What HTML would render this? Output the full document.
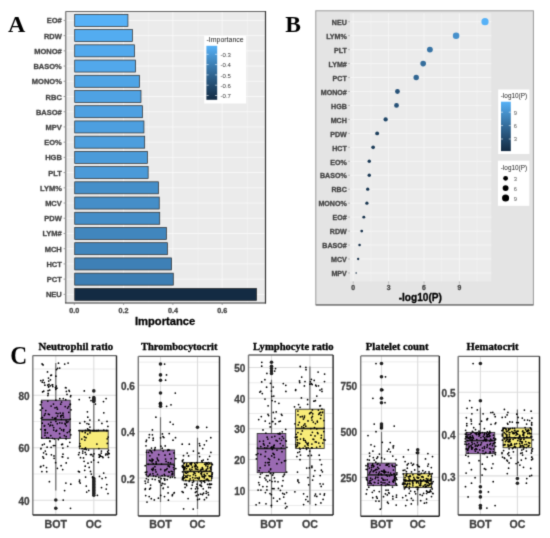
<!DOCTYPE html>
<html><head><meta charset="utf-8"><title>Figure</title>
<style>html,body{margin:0;padding:0;background:#fff;}svg{display:block;}text.g{stroke:#444;stroke-width:0.3px;stroke-linejoin:round;}text.k{stroke:#000;stroke-width:0.3px;stroke-linejoin:round;}</style></head>
<body><svg width="550" height="538" viewBox="0 0 550 538">
<defs><filter id="soft" x="0" y="0" width="550" height="538" filterUnits="userSpaceOnUse" color-interpolation-filters="sRGB"><feConvolveMatrix order="3" kernelMatrix="2 10 2 10 52 10 2 10 2" divisor="100" edgeMode="duplicate"/></filter></defs>
<g filter="url(#soft)">
<rect width="550" height="538" fill="#fff"/>
<rect x="65.5" y="11.5" width="200.0" height="291.5" fill="#EBEBEB"/>
<line x1="99.45" y1="11.5" x2="99.45" y2="303.0" stroke="#F6F6F6" stroke-width="0.5"/>
<line x1="148.75" y1="11.5" x2="148.75" y2="303.0" stroke="#F6F6F6" stroke-width="0.5"/>
<line x1="198.05" y1="11.5" x2="198.05" y2="303.0" stroke="#F6F6F6" stroke-width="0.5"/>
<line x1="247.35" y1="11.5" x2="247.35" y2="303.0" stroke="#F6F6F6" stroke-width="0.5"/>
<line x1="74.3" y1="11.5" x2="74.3" y2="303.0" stroke="#FAFAFA" stroke-width="0.8"/>
<line x1="123.6" y1="11.5" x2="123.6" y2="303.0" stroke="#FAFAFA" stroke-width="0.8"/>
<line x1="172.9" y1="11.5" x2="172.9" y2="303.0" stroke="#FAFAFA" stroke-width="0.8"/>
<line x1="222.2" y1="11.5" x2="222.2" y2="303.0" stroke="#FAFAFA" stroke-width="0.8"/>
<line x1="65.5" y1="20.4" x2="265.5" y2="20.4" stroke="#FAFAFA" stroke-width="0.8"/>
<line x1="65.5" y1="35.62" x2="265.5" y2="35.62" stroke="#FAFAFA" stroke-width="0.8"/>
<line x1="65.5" y1="50.84" x2="265.5" y2="50.84" stroke="#FAFAFA" stroke-width="0.8"/>
<line x1="65.5" y1="66.06" x2="265.5" y2="66.06" stroke="#FAFAFA" stroke-width="0.8"/>
<line x1="65.5" y1="81.28" x2="265.5" y2="81.28" stroke="#FAFAFA" stroke-width="0.8"/>
<line x1="65.5" y1="96.5" x2="265.5" y2="96.5" stroke="#FAFAFA" stroke-width="0.8"/>
<line x1="65.5" y1="111.72" x2="265.5" y2="111.72" stroke="#FAFAFA" stroke-width="0.8"/>
<line x1="65.5" y1="126.94" x2="265.5" y2="126.94" stroke="#FAFAFA" stroke-width="0.8"/>
<line x1="65.5" y1="142.16" x2="265.5" y2="142.16" stroke="#FAFAFA" stroke-width="0.8"/>
<line x1="65.5" y1="157.38" x2="265.5" y2="157.38" stroke="#FAFAFA" stroke-width="0.8"/>
<line x1="65.5" y1="172.6" x2="265.5" y2="172.6" stroke="#FAFAFA" stroke-width="0.8"/>
<line x1="65.5" y1="187.82" x2="265.5" y2="187.82" stroke="#FAFAFA" stroke-width="0.8"/>
<line x1="65.5" y1="203.04" x2="265.5" y2="203.04" stroke="#FAFAFA" stroke-width="0.8"/>
<line x1="65.5" y1="218.26" x2="265.5" y2="218.26" stroke="#FAFAFA" stroke-width="0.8"/>
<line x1="65.5" y1="233.48" x2="265.5" y2="233.48" stroke="#FAFAFA" stroke-width="0.8"/>
<line x1="65.5" y1="248.7" x2="265.5" y2="248.7" stroke="#FAFAFA" stroke-width="0.8"/>
<line x1="65.5" y1="263.92" x2="265.5" y2="263.92" stroke="#FAFAFA" stroke-width="0.8"/>
<line x1="65.5" y1="279.14" x2="265.5" y2="279.14" stroke="#FAFAFA" stroke-width="0.8"/>
<line x1="65.5" y1="294.36" x2="265.5" y2="294.36" stroke="#FAFAFA" stroke-width="0.8"/>
<rect x="74.7" y="14.4" width="53.24" height="12.0" fill="#56b1f7" stroke="#2a2a2a" stroke-width="0.7"/>
<text x="61.8" y="23.4" text-anchor="end" font-family='"Liberation Sans", sans-serif' font-weight="bold" font-size="7.5" fill="#444" class="g">EO#</text>
<line x1="63.6" y1="20.4" x2="65.5" y2="20.4" stroke="#777" stroke-width="0.7"/>
<rect x="74.7" y="29.62" width="57.67" height="12.0" fill="#53acf0" stroke="#2a2a2a" stroke-width="0.7"/>
<text x="61.8" y="38.62" text-anchor="end" font-family='"Liberation Sans", sans-serif' font-weight="bold" font-size="7.5" fill="#444" class="g">RDW</text>
<line x1="63.6" y1="35.62" x2="65.5" y2="35.62" stroke="#777" stroke-width="0.7"/>
<rect x="74.7" y="44.84" width="59.89" height="12.0" fill="#52a9ed" stroke="#2a2a2a" stroke-width="0.7"/>
<text x="61.8" y="53.84" text-anchor="end" font-family='"Liberation Sans", sans-serif' font-weight="bold" font-size="7.5" fill="#444" class="g">MONO#</text>
<line x1="63.6" y1="50.84" x2="65.5" y2="50.84" stroke="#777" stroke-width="0.7"/>
<rect x="74.7" y="60.06" width="60.88" height="12.0" fill="#52a8eb" stroke="#2a2a2a" stroke-width="0.7"/>
<text x="61.8" y="69.06" text-anchor="end" font-family='"Liberation Sans", sans-serif' font-weight="bold" font-size="7.5" fill="#444" class="g">BASO%</text>
<line x1="63.6" y1="66.06" x2="65.5" y2="66.06" stroke="#777" stroke-width="0.7"/>
<rect x="74.7" y="75.28" width="64.82" height="12.0" fill="#4fa4e5" stroke="#2a2a2a" stroke-width="0.7"/>
<text x="61.8" y="84.28" text-anchor="end" font-family='"Liberation Sans", sans-serif' font-weight="bold" font-size="7.5" fill="#444" class="g">MONO%</text>
<line x1="63.6" y1="81.28" x2="65.5" y2="81.28" stroke="#777" stroke-width="0.7"/>
<rect x="74.7" y="90.5" width="66.3" height="12.0" fill="#4fa2e3" stroke="#2a2a2a" stroke-width="0.7"/>
<text x="61.8" y="99.5" text-anchor="end" font-family='"Liberation Sans", sans-serif' font-weight="bold" font-size="7.5" fill="#444" class="g">RBC</text>
<line x1="63.6" y1="96.5" x2="65.5" y2="96.5" stroke="#777" stroke-width="0.7"/>
<rect x="74.7" y="105.72" width="67.78" height="12.0" fill="#4ea0e1" stroke="#2a2a2a" stroke-width="0.7"/>
<text x="61.8" y="114.72" text-anchor="end" font-family='"Liberation Sans", sans-serif' font-weight="bold" font-size="7.5" fill="#444" class="g">BASO#</text>
<line x1="63.6" y1="111.72" x2="65.5" y2="111.72" stroke="#777" stroke-width="0.7"/>
<rect x="74.7" y="120.94" width="69.26" height="12.0" fill="#4d9fdf" stroke="#2a2a2a" stroke-width="0.7"/>
<text x="61.8" y="129.94" text-anchor="end" font-family='"Liberation Sans", sans-serif' font-weight="bold" font-size="7.5" fill="#444" class="g">MPV</text>
<line x1="63.6" y1="126.94" x2="65.5" y2="126.94" stroke="#777" stroke-width="0.7"/>
<rect x="74.7" y="136.16" width="70" height="12.0" fill="#4d9edd" stroke="#2a2a2a" stroke-width="0.7"/>
<text x="61.8" y="145.16" text-anchor="end" font-family='"Liberation Sans", sans-serif' font-weight="bold" font-size="7.5" fill="#444" class="g">EO%</text>
<line x1="63.6" y1="142.16" x2="65.5" y2="142.16" stroke="#777" stroke-width="0.7"/>
<rect x="74.7" y="151.38" width="72.71" height="12.0" fill="#4b9bd9" stroke="#2a2a2a" stroke-width="0.7"/>
<text x="61.8" y="160.38" text-anchor="end" font-family='"Liberation Sans", sans-serif' font-weight="bold" font-size="7.5" fill="#444" class="g">HGB</text>
<line x1="63.6" y1="157.38" x2="65.5" y2="157.38" stroke="#777" stroke-width="0.7"/>
<rect x="74.7" y="166.6" width="73.45" height="12.0" fill="#4b9ad8" stroke="#2a2a2a" stroke-width="0.7"/>
<text x="61.8" y="175.6" text-anchor="end" font-family='"Liberation Sans", sans-serif' font-weight="bold" font-size="7.5" fill="#444" class="g">PLT</text>
<line x1="63.6" y1="172.6" x2="65.5" y2="172.6" stroke="#777" stroke-width="0.7"/>
<rect x="74.7" y="181.82" width="83.8" height="12.0" fill="#458fc9" stroke="#2a2a2a" stroke-width="0.7"/>
<text x="61.8" y="190.82" text-anchor="end" font-family='"Liberation Sans", sans-serif' font-weight="bold" font-size="7.5" fill="#444" class="g">LYM%</text>
<line x1="63.6" y1="187.82" x2="65.5" y2="187.82" stroke="#777" stroke-width="0.7"/>
<rect x="74.7" y="197.04" width="84.54" height="12.0" fill="#458ec8" stroke="#2a2a2a" stroke-width="0.7"/>
<text x="61.8" y="206.04" text-anchor="end" font-family='"Liberation Sans", sans-serif' font-weight="bold" font-size="7.5" fill="#444" class="g">MCV</text>
<line x1="63.6" y1="203.04" x2="65.5" y2="203.04" stroke="#777" stroke-width="0.7"/>
<rect x="74.7" y="212.26" width="85.04" height="12.0" fill="#448dc7" stroke="#2a2a2a" stroke-width="0.7"/>
<text x="61.8" y="221.26" text-anchor="end" font-family='"Liberation Sans", sans-serif' font-weight="bold" font-size="7.5" fill="#444" class="g">PDW</text>
<line x1="63.6" y1="218.26" x2="65.5" y2="218.26" stroke="#777" stroke-width="0.7"/>
<rect x="74.7" y="227.48" width="91.69" height="12.0" fill="#4186bd" stroke="#2a2a2a" stroke-width="0.7"/>
<text x="61.8" y="236.48" text-anchor="end" font-family='"Liberation Sans", sans-serif' font-weight="bold" font-size="7.5" fill="#444" class="g">LYM#</text>
<line x1="63.6" y1="233.48" x2="65.5" y2="233.48" stroke="#777" stroke-width="0.7"/>
<rect x="74.7" y="242.7" width="92.68" height="12.0" fill="#4085bc" stroke="#2a2a2a" stroke-width="0.7"/>
<text x="61.8" y="251.7" text-anchor="end" font-family='"Liberation Sans", sans-serif' font-weight="bold" font-size="7.5" fill="#444" class="g">MCH</text>
<line x1="63.6" y1="248.7" x2="65.5" y2="248.7" stroke="#777" stroke-width="0.7"/>
<rect x="74.7" y="257.92" width="96.87" height="12.0" fill="#3e80b6" stroke="#2a2a2a" stroke-width="0.7"/>
<text x="61.8" y="266.92" text-anchor="end" font-family='"Liberation Sans", sans-serif' font-weight="bold" font-size="7.5" fill="#444" class="g">HCT</text>
<line x1="63.6" y1="263.92" x2="65.5" y2="263.92" stroke="#777" stroke-width="0.7"/>
<rect x="74.7" y="273.14" width="98.59" height="12.0" fill="#3d7eb3" stroke="#2a2a2a" stroke-width="0.7"/>
<text x="61.8" y="282.14" text-anchor="end" font-family='"Liberation Sans", sans-serif' font-weight="bold" font-size="7.5" fill="#444" class="g">PCT</text>
<line x1="63.6" y1="279.14" x2="65.5" y2="279.14" stroke="#777" stroke-width="0.7"/>
<rect x="74.7" y="288.36" width="181.91" height="12.0" fill="#132b43" stroke="#2a2a2a" stroke-width="0.7"/>
<text x="61.8" y="297.36" text-anchor="end" font-family='"Liberation Sans", sans-serif' font-weight="bold" font-size="7.5" fill="#444" class="g">NEU</text>
<line x1="63.6" y1="294.36" x2="65.5" y2="294.36" stroke="#777" stroke-width="0.7"/>
<line x1="65.5" y1="11.5" x2="265.5" y2="11.5" stroke="#666" stroke-width="1.1"/>
<line x1="65.7" y1="11.5" x2="65.7" y2="303.0" stroke="#888" stroke-width="1.5"/>
<line x1="265.5" y1="11.0" x2="265.5" y2="303.5" stroke="#333" stroke-width="1.2"/>
<line x1="65.0" y1="303.0" x2="266.0" y2="303.0" stroke="#333" stroke-width="1.2"/>
<line x1="74.3" y1="303.0" x2="74.3" y2="305.0" stroke="#777" stroke-width="0.7"/>
<text x="74.3" y="313.3" text-anchor="middle" font-family='"Liberation Sans", sans-serif' font-weight="bold" font-size="7.2" fill="#444" class="g">0.0</text>
<line x1="123.6" y1="303.0" x2="123.6" y2="305.0" stroke="#777" stroke-width="0.7"/>
<text x="123.6" y="313.3" text-anchor="middle" font-family='"Liberation Sans", sans-serif' font-weight="bold" font-size="7.2" fill="#444" class="g">0.2</text>
<line x1="172.9" y1="303.0" x2="172.9" y2="305.0" stroke="#777" stroke-width="0.7"/>
<text x="172.9" y="313.3" text-anchor="middle" font-family='"Liberation Sans", sans-serif' font-weight="bold" font-size="7.2" fill="#444" class="g">0.4</text>
<line x1="222.2" y1="303.0" x2="222.2" y2="305.0" stroke="#777" stroke-width="0.7"/>
<text x="222.2" y="313.3" text-anchor="middle" font-family='"Liberation Sans", sans-serif' font-weight="bold" font-size="7.2" fill="#444" class="g">0.6</text>
<text x="165.1" y="325" text-anchor="middle" font-family='"Liberation Sans", sans-serif' font-weight="bold" font-size="11.2" fill="#000" class="k">Importance</text>
<defs><linearGradient id="gA" x1="0" y1="0" x2="0" y2="1"><stop offset="0.00" stop-color="#56b1f7"/><stop offset="0.05" stop-color="#52aaed"/><stop offset="0.10" stop-color="#4fa2e3"/><stop offset="0.15" stop-color="#4b9bda"/><stop offset="0.20" stop-color="#4894d0"/><stop offset="0.25" stop-color="#448dc6"/><stop offset="0.30" stop-color="#4186bd"/><stop offset="0.35" stop-color="#3d7fb4"/><stop offset="0.40" stop-color="#3a78aa"/><stop offset="0.45" stop-color="#3671a1"/><stop offset="0.50" stop-color="#336a98"/><stop offset="0.55" stop-color="#2f638f"/><stop offset="0.60" stop-color="#2c5d86"/><stop offset="0.65" stop-color="#29567d"/><stop offset="0.70" stop-color="#265075"/><stop offset="0.75" stop-color="#22496c"/><stop offset="0.80" stop-color="#1f4364"/><stop offset="0.85" stop-color="#1c3d5b"/><stop offset="0.90" stop-color="#193753"/><stop offset="0.95" stop-color="#16314b"/><stop offset="1.00" stop-color="#132b43"/></linearGradient><linearGradient id="gB" x1="0" y1="0" x2="0" y2="1"><stop offset="0.00" stop-color="#56b1f7"/><stop offset="0.05" stop-color="#52aaed"/><stop offset="0.10" stop-color="#4fa2e3"/><stop offset="0.15" stop-color="#4b9bda"/><stop offset="0.20" stop-color="#4894d0"/><stop offset="0.25" stop-color="#448dc6"/><stop offset="0.30" stop-color="#4186bd"/><stop offset="0.35" stop-color="#3d7fb4"/><stop offset="0.40" stop-color="#3a78aa"/><stop offset="0.45" stop-color="#3671a1"/><stop offset="0.50" stop-color="#336a98"/><stop offset="0.55" stop-color="#2f638f"/><stop offset="0.60" stop-color="#2c5d86"/><stop offset="0.65" stop-color="#29567d"/><stop offset="0.70" stop-color="#265075"/><stop offset="0.75" stop-color="#22496c"/><stop offset="0.80" stop-color="#1f4364"/><stop offset="0.85" stop-color="#1c3d5b"/><stop offset="0.90" stop-color="#193753"/><stop offset="0.95" stop-color="#16314b"/><stop offset="1.00" stop-color="#132b43"/></linearGradient></defs>
<rect x="204.2" y="35.6" width="42" height="67.9" fill="#fff"/>
<text x="206.4" y="41.8" font-family='"Liberation Sans", sans-serif' font-size="7.0" fill="#1a1a1a">-Importance</text>
<rect x="206.4" y="45.8" width="10.8" height="54" fill="url(#gA)"/>
<line x1="206.4" y1="54.3" x2="208.6" y2="54.3" stroke="#fff" stroke-width="0.6"/>
<line x1="215" y1="54.3" x2="217.2" y2="54.3" stroke="#fff" stroke-width="0.6"/>
<text x="220.6" y="56.9" font-family='"Liberation Sans", sans-serif' font-size="6.0" fill="#333">-0.3</text>
<line x1="206.4" y1="64.6" x2="208.6" y2="64.6" stroke="#fff" stroke-width="0.6"/>
<line x1="215" y1="64.6" x2="217.2" y2="64.6" stroke="#fff" stroke-width="0.6"/>
<text x="220.6" y="67.2" font-family='"Liberation Sans", sans-serif' font-size="6.0" fill="#333">-0.4</text>
<line x1="206.4" y1="74.9" x2="208.6" y2="74.9" stroke="#fff" stroke-width="0.6"/>
<line x1="215" y1="74.9" x2="217.2" y2="74.9" stroke="#fff" stroke-width="0.6"/>
<text x="220.6" y="77.5" font-family='"Liberation Sans", sans-serif' font-size="6.0" fill="#333">-0.5</text>
<line x1="206.4" y1="85.2" x2="208.6" y2="85.2" stroke="#fff" stroke-width="0.6"/>
<line x1="215" y1="85.2" x2="217.2" y2="85.2" stroke="#fff" stroke-width="0.6"/>
<text x="220.6" y="87.8" font-family='"Liberation Sans", sans-serif' font-size="6.0" fill="#333">-0.6</text>
<line x1="206.4" y1="95.5" x2="208.6" y2="95.5" stroke="#fff" stroke-width="0.6"/>
<line x1="215" y1="95.5" x2="217.2" y2="95.5" stroke="#fff" stroke-width="0.6"/>
<text x="220.6" y="98.1" font-family='"Liberation Sans", sans-serif' font-size="6.0" fill="#333">-0.7</text>
<text x="8" y="32.4" font-family='"Liberation Serif", serif' font-weight="bold" font-size="24" fill="#000">A</text>
<rect x="315.8" y="10.8" width="217.6" height="294" fill="#E4E4E4" stroke="#9a9a9a" stroke-width="1"/>
<line x1="315.8" y1="305" x2="533.4" y2="305" stroke="#555" stroke-width="1.2"/>
<rect x="350.0" y="13.3" width="141.3" height="268.1" fill="#EBEBEB"/>
<line x1="370.9" y1="13.3" x2="370.9" y2="281.4" stroke="#F4F4F4" stroke-width="0.5"/>
<line x1="406.3" y1="13.3" x2="406.3" y2="281.4" stroke="#F4F4F4" stroke-width="0.5"/>
<line x1="441.7" y1="13.3" x2="441.7" y2="281.4" stroke="#F4F4F4" stroke-width="0.5"/>
<line x1="477.1" y1="13.3" x2="477.1" y2="281.4" stroke="#F4F4F4" stroke-width="0.5"/>
<line x1="353.2" y1="13.3" x2="353.2" y2="281.4" stroke="#F6F6F6" stroke-width="0.9"/>
<line x1="388.6" y1="13.3" x2="388.6" y2="281.4" stroke="#F6F6F6" stroke-width="0.9"/>
<line x1="424" y1="13.3" x2="424" y2="281.4" stroke="#F6F6F6" stroke-width="0.9"/>
<line x1="459.4" y1="13.3" x2="459.4" y2="281.4" stroke="#F6F6F6" stroke-width="0.9"/>
<line x1="350.0" y1="21.7" x2="491.3" y2="21.7" stroke="#F6F6F6" stroke-width="0.9"/>
<line x1="350.0" y1="35.66" x2="491.3" y2="35.66" stroke="#F6F6F6" stroke-width="0.9"/>
<line x1="350.0" y1="49.62" x2="491.3" y2="49.62" stroke="#F6F6F6" stroke-width="0.9"/>
<line x1="350.0" y1="63.58" x2="491.3" y2="63.58" stroke="#F6F6F6" stroke-width="0.9"/>
<line x1="350.0" y1="77.54" x2="491.3" y2="77.54" stroke="#F6F6F6" stroke-width="0.9"/>
<line x1="350.0" y1="91.5" x2="491.3" y2="91.5" stroke="#F6F6F6" stroke-width="0.9"/>
<line x1="350.0" y1="105.46" x2="491.3" y2="105.46" stroke="#F6F6F6" stroke-width="0.9"/>
<line x1="350.0" y1="119.42" x2="491.3" y2="119.42" stroke="#F6F6F6" stroke-width="0.9"/>
<line x1="350.0" y1="133.38" x2="491.3" y2="133.38" stroke="#F6F6F6" stroke-width="0.9"/>
<line x1="350.0" y1="147.34" x2="491.3" y2="147.34" stroke="#F6F6F6" stroke-width="0.9"/>
<line x1="350.0" y1="161.3" x2="491.3" y2="161.3" stroke="#F6F6F6" stroke-width="0.9"/>
<line x1="350.0" y1="175.26" x2="491.3" y2="175.26" stroke="#F6F6F6" stroke-width="0.9"/>
<line x1="350.0" y1="189.22" x2="491.3" y2="189.22" stroke="#F6F6F6" stroke-width="0.9"/>
<line x1="350.0" y1="203.18" x2="491.3" y2="203.18" stroke="#F6F6F6" stroke-width="0.9"/>
<line x1="350.0" y1="217.14" x2="491.3" y2="217.14" stroke="#F6F6F6" stroke-width="0.9"/>
<line x1="350.0" y1="231.1" x2="491.3" y2="231.1" stroke="#F6F6F6" stroke-width="0.9"/>
<line x1="350.0" y1="245.06" x2="491.3" y2="245.06" stroke="#F6F6F6" stroke-width="0.9"/>
<line x1="350.0" y1="259.02" x2="491.3" y2="259.02" stroke="#F6F6F6" stroke-width="0.9"/>
<line x1="350.0" y1="272.98" x2="491.3" y2="272.98" stroke="#F6F6F6" stroke-width="0.9"/>
<circle cx="485.01" cy="21.7" r="3.6" fill="#56b1f7"/>
<text x="346.8" y="24.9" text-anchor="end" font-family='"Liberation Sans", sans-serif' font-weight="bold" font-size="7.1" fill="#444" class="g">NEU</text>
<line x1="348" y1="21.7" x2="350.0" y2="21.7" stroke="#888" stroke-width="0.5"/>
<circle cx="456.1" cy="35.66" r="3.27" fill="#4690cb"/>
<text x="346.8" y="38.86" text-anchor="end" font-family='"Liberation Sans", sans-serif' font-weight="bold" font-size="7.1" fill="#444" class="g">LYM%</text>
<line x1="348" y1="35.66" x2="350.0" y2="35.66" stroke="#888" stroke-width="0.5"/>
<circle cx="429.9" cy="49.62" r="2.92" fill="#3874a5"/>
<text x="346.8" y="52.82" text-anchor="end" font-family='"Liberation Sans", sans-serif' font-weight="bold" font-size="7.1" fill="#444" class="g">PLT</text>
<line x1="348" y1="49.62" x2="350.0" y2="49.62" stroke="#888" stroke-width="0.5"/>
<circle cx="423.17" cy="63.58" r="2.82" fill="#346d9c"/>
<text x="346.8" y="66.78" text-anchor="end" font-family='"Liberation Sans", sans-serif' font-weight="bold" font-size="7.1" fill="#444" class="g">LYM#</text>
<line x1="348" y1="63.58" x2="350.0" y2="63.58" stroke="#888" stroke-width="0.5"/>
<circle cx="416.21" cy="77.54" r="2.71" fill="#316692"/>
<text x="346.8" y="80.74" text-anchor="end" font-family='"Liberation Sans", sans-serif' font-weight="bold" font-size="7.1" fill="#444" class="g">PCT</text>
<line x1="348" y1="77.54" x2="350.0" y2="77.54" stroke="#888" stroke-width="0.5"/>
<circle cx="397.45" cy="91.5" r="2.39" fill="#275278"/>
<text x="346.8" y="94.7" text-anchor="end" font-family='"Liberation Sans", sans-serif' font-weight="bold" font-size="7.1" fill="#444" class="g">MONO#</text>
<line x1="348" y1="91.5" x2="350.0" y2="91.5" stroke="#888" stroke-width="0.5"/>
<circle cx="396.51" cy="105.46" r="2.37" fill="#265177"/>
<text x="346.8" y="108.66" text-anchor="end" font-family='"Liberation Sans", sans-serif' font-weight="bold" font-size="7.1" fill="#444" class="g">HGB</text>
<line x1="348" y1="105.46" x2="350.0" y2="105.46" stroke="#888" stroke-width="0.5"/>
<circle cx="385.65" cy="119.42" r="2.14" fill="#214768"/>
<text x="346.8" y="122.62" text-anchor="end" font-family='"Liberation Sans", sans-serif' font-weight="bold" font-size="7.1" fill="#444" class="g">MCH</text>
<line x1="348" y1="119.42" x2="350.0" y2="119.42" stroke="#888" stroke-width="0.5"/>
<circle cx="377.15" cy="133.38" r="1.93" fill="#1d3f5d"/>
<text x="346.8" y="136.58" text-anchor="end" font-family='"Liberation Sans", sans-serif' font-weight="bold" font-size="7.1" fill="#444" class="g">PDW</text>
<line x1="348" y1="133.38" x2="350.0" y2="133.38" stroke="#888" stroke-width="0.5"/>
<circle cx="373.14" cy="147.34" r="1.82" fill="#1b3b58"/>
<text x="346.8" y="150.54" text-anchor="end" font-family='"Liberation Sans", sans-serif' font-weight="bold" font-size="7.1" fill="#444" class="g">HCT</text>
<line x1="348" y1="147.34" x2="350.0" y2="147.34" stroke="#888" stroke-width="0.5"/>
<circle cx="369.25" cy="161.3" r="1.69" fill="#193753"/>
<text x="346.8" y="164.5" text-anchor="end" font-family='"Liberation Sans", sans-serif' font-weight="bold" font-size="7.1" fill="#444" class="g">EO%</text>
<line x1="348" y1="161.3" x2="350.0" y2="161.3" stroke="#888" stroke-width="0.5"/>
<circle cx="369.25" cy="175.26" r="1.69" fill="#193753"/>
<text x="346.8" y="178.46" text-anchor="end" font-family='"Liberation Sans", sans-serif' font-weight="bold" font-size="7.1" fill="#444" class="g">BASO%</text>
<line x1="348" y1="175.26" x2="350.0" y2="175.26" stroke="#888" stroke-width="0.5"/>
<circle cx="367.71" cy="189.22" r="1.64" fill="#183651"/>
<text x="346.8" y="192.42" text-anchor="end" font-family='"Liberation Sans", sans-serif' font-weight="bold" font-size="7.1" fill="#444" class="g">RBC</text>
<line x1="348" y1="189.22" x2="350.0" y2="189.22" stroke="#888" stroke-width="0.5"/>
<circle cx="366.89" cy="203.18" r="1.61" fill="#183550"/>
<text x="346.8" y="206.38" text-anchor="end" font-family='"Liberation Sans", sans-serif' font-weight="bold" font-size="7.1" fill="#444" class="g">MONO%</text>
<line x1="348" y1="203.18" x2="350.0" y2="203.18" stroke="#888" stroke-width="0.5"/>
<circle cx="363.82" cy="217.14" r="1.48" fill="#17324c"/>
<text x="346.8" y="220.34" text-anchor="end" font-family='"Liberation Sans", sans-serif' font-weight="bold" font-size="7.1" fill="#444" class="g">EO#</text>
<line x1="348" y1="217.14" x2="350.0" y2="217.14" stroke="#888" stroke-width="0.5"/>
<circle cx="361.7" cy="231.1" r="1.38" fill="#16304a"/>
<text x="346.8" y="234.3" text-anchor="end" font-family='"Liberation Sans", sans-serif' font-weight="bold" font-size="7.1" fill="#444" class="g">RDW</text>
<line x1="348" y1="231.1" x2="350.0" y2="231.1" stroke="#888" stroke-width="0.5"/>
<circle cx="359.57" cy="245.06" r="1.26" fill="#152e47"/>
<text x="346.8" y="248.26" text-anchor="end" font-family='"Liberation Sans", sans-serif' font-weight="bold" font-size="7.1" fill="#444" class="g">BASO#</text>
<line x1="348" y1="245.06" x2="350.0" y2="245.06" stroke="#888" stroke-width="0.5"/>
<circle cx="358.16" cy="259.02" r="1.15" fill="#142d45"/>
<text x="346.8" y="262.22" text-anchor="end" font-family='"Liberation Sans", sans-serif' font-weight="bold" font-size="7.1" fill="#444" class="g">MCV</text>
<line x1="348" y1="259.02" x2="350.0" y2="259.02" stroke="#888" stroke-width="0.5"/>
<circle cx="356.15" cy="272.98" r="0.8" fill="#132b43"/>
<text x="346.8" y="276.18" text-anchor="end" font-family='"Liberation Sans", sans-serif' font-weight="bold" font-size="7.1" fill="#444" class="g">MPV</text>
<line x1="348" y1="272.98" x2="350.0" y2="272.98" stroke="#888" stroke-width="0.5"/>
<line x1="353.2" y1="281.4" x2="353.2" y2="283.59999999999997" stroke="#888" stroke-width="0.5"/>
<text x="353.2" y="290" text-anchor="middle" font-family='"Liberation Sans", sans-serif' font-weight="bold" font-size="6.8" fill="#444" class="g">0</text>
<line x1="388.6" y1="281.4" x2="388.6" y2="283.59999999999997" stroke="#888" stroke-width="0.5"/>
<text x="388.6" y="290" text-anchor="middle" font-family='"Liberation Sans", sans-serif' font-weight="bold" font-size="6.8" fill="#444" class="g">3</text>
<line x1="424" y1="281.4" x2="424" y2="283.59999999999997" stroke="#888" stroke-width="0.5"/>
<text x="424" y="290" text-anchor="middle" font-family='"Liberation Sans", sans-serif' font-weight="bold" font-size="6.8" fill="#444" class="g">6</text>
<line x1="459.4" y1="281.4" x2="459.4" y2="283.59999999999997" stroke="#888" stroke-width="0.5"/>
<text x="459.4" y="290" text-anchor="middle" font-family='"Liberation Sans", sans-serif' font-weight="bold" font-size="6.8" fill="#444" class="g">9</text>
<text x="420.3" y="300.6" text-anchor="middle" font-family='"Liberation Sans", sans-serif' font-weight="bold" font-size="10.1" fill="#000" class="k">-log10(P)</text>
<rect x="498.2" y="89.5" width="31.2" height="64.5" fill="#fff"/>
<text x="500.8" y="97.6" font-family='"Liberation Sans", sans-serif' font-size="6.4" fill="#1a1a1a">-log10(P)</text>
<rect x="501" y="101.7" width="9.8" height="49.4" fill="url(#gB)"/>
<line x1="501" y1="112.2" x2="503" y2="112.2" stroke="#fff" stroke-width="0.6"/>
<line x1="508.8" y1="112.2" x2="510.8" y2="112.2" stroke="#fff" stroke-width="0.6"/>
<text x="513.8" y="114.5" font-family='"Liberation Sans", sans-serif' font-size="5.8" fill="#555">9</text>
<line x1="501" y1="125.6" x2="503" y2="125.6" stroke="#fff" stroke-width="0.6"/>
<line x1="508.8" y1="125.6" x2="510.8" y2="125.6" stroke="#fff" stroke-width="0.6"/>
<text x="513.8" y="127.9" font-family='"Liberation Sans", sans-serif' font-size="5.8" fill="#555">6</text>
<line x1="501" y1="139" x2="503" y2="139" stroke="#fff" stroke-width="0.6"/>
<line x1="508.8" y1="139" x2="510.8" y2="139" stroke="#fff" stroke-width="0.6"/>
<text x="513.8" y="141.3" font-family='"Liberation Sans", sans-serif' font-size="5.8" fill="#555">3</text>
<rect x="497.9" y="160.7" width="31.4" height="45.1" fill="#fff"/>
<text x="500.8" y="169.8" font-family='"Liberation Sans", sans-serif' font-size="6.4" fill="#1a1a1a">-log10(P)</text>
<circle cx="505.6" cy="178.3" r="2.4" fill="#000"/>
<text x="513.8" y="180.8" font-family='"Liberation Sans", sans-serif' font-size="5.8" fill="#555">3</text>
<circle cx="505.6" cy="188.1" r="2.95" fill="#000"/>
<text x="513.8" y="190.6" font-family='"Liberation Sans", sans-serif' font-size="5.8" fill="#555">6</text>
<circle cx="505.6" cy="198.0" r="3.55" fill="#000"/>
<text x="513.8" y="200.5" font-family='"Liberation Sans", sans-serif' font-size="5.8" fill="#555">9</text>
<text x="285.2" y="32.3" font-family='"Liberation Serif", serif' font-weight="bold" font-size="23.5" fill="#000">B</text>
<text x="0" y="0" transform="translate(10.2 364) scale(0.93 1)" font-family='"Liberation Serif", serif' font-weight="bold" font-size="25.2" fill="#000">C</text>
<rect x="32.8" y="355.6" width="83.7" height="159.4" fill="#fff"/>
<line x1="32.8" y1="369.0" x2="116.5" y2="369.0" stroke="#E6E6E6" stroke-width="0.8"/>
<line x1="32.8" y1="421.5" x2="116.5" y2="421.5" stroke="#E6E6E6" stroke-width="0.8"/>
<line x1="32.8" y1="474.0" x2="116.5" y2="474.0" stroke="#E6E6E6" stroke-width="0.8"/>
<line x1="32.8" y1="395.2" x2="116.5" y2="395.2" stroke="#DCDCDC" stroke-width="1.1"/>
<text x="29.6" y="399.8" text-anchor="end" font-family='"Liberation Sans", sans-serif' font-weight="bold" font-size="10" fill="#404040" class="g">80</text>
<line x1="32.8" y1="447.8" x2="116.5" y2="447.8" stroke="#DCDCDC" stroke-width="1.1"/>
<text x="29.6" y="452.4" text-anchor="end" font-family='"Liberation Sans", sans-serif' font-weight="bold" font-size="10" fill="#404040" class="g">60</text>
<line x1="32.8" y1="500.3" x2="116.5" y2="500.3" stroke="#DCDCDC" stroke-width="1.1"/>
<text x="29.6" y="504.9" text-anchor="end" font-family='"Liberation Sans", sans-serif' font-weight="bold" font-size="10" fill="#404040" class="g">40</text>
<line x1="55.8" y1="355.6" x2="55.8" y2="515.0" stroke="#DCDCDC" stroke-width="1.1"/>
<line x1="93.8" y1="355.6" x2="93.8" y2="515.0" stroke="#DCDCDC" stroke-width="1.1"/>
<line x1="55.8" y1="363" x2="55.8" y2="400.2" stroke="#6a6a6a" stroke-width="1.2"/>
<line x1="55.8" y1="438.5" x2="55.8" y2="490.6" stroke="#6a6a6a" stroke-width="1.2"/>
<rect x="41.4" y="400.2" width="28.8" height="38.3" fill="#9A6AB2" stroke="#333" stroke-width="0.9"/>
<line x1="41.4" y1="419.7" x2="70.2" y2="419.7" stroke="#222" stroke-width="1.6"/>
<circle cx="55.8" cy="500" r="1.8" fill="#222"/>
<circle cx="55.8" cy="508.3" r="1.8" fill="#222"/>
<line x1="93.8" y1="404" x2="93.8" y2="430.2" stroke="#6a6a6a" stroke-width="1.2"/>
<line x1="93.8" y1="448.8" x2="93.8" y2="477.6" stroke="#6a6a6a" stroke-width="1.2"/>
<rect x="79.4" y="430.2" width="28.8" height="18.6" fill="#F8EC78" stroke="#333" stroke-width="0.9"/>
<line x1="79.4" y1="430.8" x2="108.2" y2="430.8" stroke="#222" stroke-width="1.6"/>
<circle cx="93.8" cy="390.9" r="1.8" fill="#222"/>
<circle cx="93.8" cy="397.6" r="1.8" fill="#222"/>
<circle cx="93.8" cy="398.6" r="1.8" fill="#222"/>
<circle cx="93.8" cy="399.6" r="1.8" fill="#222"/>
<circle cx="93.8" cy="400.6" r="1.8" fill="#222"/>
<circle cx="93.8" cy="401.6" r="1.8" fill="#222"/>
<circle cx="93.8" cy="478.5" r="1.8" fill="#222"/>
<circle cx="93.8" cy="480" r="1.8" fill="#222"/>
<circle cx="93.8" cy="481.5" r="1.8" fill="#222"/>
<circle cx="93.8" cy="483" r="1.8" fill="#222"/>
<circle cx="93.8" cy="484.5" r="1.8" fill="#222"/>
<circle cx="93.8" cy="486" r="1.8" fill="#222"/>
<circle cx="93.8" cy="487.5" r="1.8" fill="#222"/>
<circle cx="93.8" cy="489" r="1.8" fill="#222"/>
<circle cx="93.8" cy="490.5" r="1.8" fill="#222"/>
<circle cx="93.8" cy="492" r="1.8" fill="#222"/>
<circle cx="93.8" cy="493.5" r="1.8" fill="#222"/>
<circle cx="93.8" cy="495.3" r="1.8" fill="#222"/>
<path d="M64.6 490.6h0M68.1 363.0h0M45.1 432.9h0M62.5 444.1h0M60.8 416.9h0M44.7 429.8h0M67.7 446.3h0M70.3 419.1h0M47.1 447.2h0M69.8 442.3h0M52.6 425.4h0M55.4 387.6h0M71.0 409.8h0M66.1 387.8h0M45.3 413.7h0M53.7 427.5h0M56.3 386.0h0M50.8 435.5h0M46.4 454.3h0M50.2 385.8h0M62.7 469.5h0M40.9 429.3h0M57.5 416.0h0M54.0 455.9h0M40.9 448.8h0M50.6 425.1h0M59.6 433.7h0M56.2 413.0h0M42.3 423.2h0M70.8 434.8h0M64.7 364.0h0M70.4 404.2h0M43.5 465.6h0M48.5 386.5h0M41.5 401.8h0M64.4 435.6h0M48.7 381.1h0M44.3 382.7h0M53.4 445.5h0M68.6 406.6h0M65.7 399.7h0M48.3 414.0h0M44.9 385.2h0M68.8 412.3h0M58.0 413.5h0M62.0 423.0h0M43.1 364.9h0M42.1 363.9h0M61.6 444.5h0M53.5 404.0h0M42.5 408.2h0M69.4 391.3h0M60.0 428.3h0M65.2 406.5h0M42.9 456.8h0M66.8 422.6h0M42.4 444.9h0M67.0 394.4h0M54.4 438.9h0M50.8 375.4h0M57.4 468.3h0M69.0 390.3h0M48.6 387.0h0M44.3 426.1h0M56.6 430.3h0M47.7 385.0h0M43.7 391.2h0M45.3 451.1h0M41.9 471.6h0M46.6 437.5h0M50.0 441.6h0M49.8 425.8h0M63.8 429.5h0M49.3 414.5h0M55.8 389.3h0M45.8 410.5h0M51.1 406.0h0M40.9 466.4h0M48.1 390.7h0M40.8 380.6h0M63.0 454.2h0M57.4 409.2h0M46.2 454.0h0M55.0 445.5h0M69.3 431.7h0M43.6 452.8h0M65.7 438.5h0M53.7 430.0h0M55.6 462.7h0M66.2 462.9h0M52.5 438.3h0M56.0 431.2h0M61.6 429.9h0M70.8 484.2h0M50.9 422.3h0M66.1 420.9h0M62.2 456.8h0M60.0 437.4h0M52.8 386.5h0M51.1 447.3h0M42.0 417.5h0M44.3 444.1h0M42.5 417.5h0M63.3 398.6h0M48.2 393.8h0M45.4 429.7h0M42.9 456.8h0M66.4 391.4h0M67.3 432.5h0M61.1 465.7h0M49.0 384.3h0M47.8 401.0h0M49.4 481.7h0M54.5 418.3h0M45.2 430.6h0M54.1 458.3h0M48.5 437.8h0M70.1 404.7h0M70.5 396.7h0M57.3 423.7h0M47.9 395.5h0M70.2 429.9h0M49.9 440.9h0M51.4 454.8h0M40.3 410.0h0M52.1 384.9h0M55.0 407.8h0M55.9 376.2h0M46.5 467.6h0M55.9 400.2h0M40.5 466.9h0M48.5 378.0h0M43.1 380.2h0M52.7 384.8h0M41.6 402.2h0M41.0 448.4h0M49.7 390.0h0M47.5 371.9h0M58.5 363.2h0M56.7 407.4h0M63.6 430.9h0M60.7 415.9h0M62.5 444.4h0M67.6 408.0h0M52.4 417.6h0M50.4 379.8h0M70.8 395.6h0M44.9 435.3h0M62.7 456.9h0M60.2 413.0h0M41.7 437.8h0M66.2 425.8h0M68.0 458.1h0M59.7 422.8h0M63.0 413.2h0M65.5 387.7h0M44.6 425.7h0M56.5 369.5h0M55.9 417.9h0M66.2 438.8h0M65.2 424.2h0M65.9 483.1h0M58.4 439.6h0M68.0 421.7h0M61.5 402.1h0M61.8 415.3h0M47.4 432.8h0M41.3 418.3h0M44.4 415.4h0M51.5 375.1h0M43.6 458.2h0M66.2 436.5h0M57.6 368.3h0M59.8 398.7h0M59.7 368.1h0M61.4 419.3h0M55.5 418.8h0M40.4 404.7h0M65.0 423.3h0M63.5 417.1h0M55.9 421.4h0M56.9 388.2h0M60.7 404.2h0M42.3 382.2h0M63.1 415.1h0M48.1 393.3h0M42.6 391.9h0M48.5 424.1h0M62.9 448.1h0M46.7 471.7h0M63.2 500.0h0M70.5 508.3h0" stroke="#000" stroke-width="1.75" stroke-linecap="round" fill="none"/>
<path d="M92.5 477.6h0M95.4 404.0h0M79.5 446.4h0M102.6 456.8h0M85.5 447.9h0M106.8 430.7h0M98.3 430.4h0M87.7 434.1h0M82.3 431.5h0M86.1 454.4h0M98.0 430.5h0M100.0 456.2h0M81.8 439.0h0M80.5 457.7h0M94.6 430.7h0M96.4 430.7h0M90.3 430.7h0M85.2 452.4h0M96.9 444.1h0M78.6 454.7h0M87.6 428.9h0M92.6 476.9h0M108.0 452.7h0M98.3 462.3h0M105.7 477.5h0M93.0 456.1h0M85.6 477.0h0M86.0 437.7h0M108.1 453.3h0M100.1 455.0h0M87.8 417.2h0M79.0 430.6h0M93.7 460.0h0M99.2 457.2h0M91.3 462.0h0M86.3 449.5h0M99.0 454.7h0M107.0 421.4h0M85.3 448.9h0M79.4 471.9h0M88.8 424.2h0M91.3 474.1h0M99.5 476.4h0M84.4 436.9h0M103.0 457.5h0M101.2 453.0h0M94.0 453.8h0M84.7 421.7h0M108.4 450.2h0M88.0 463.2h0M103.7 473.0h0M85.5 430.3h0M85.2 432.7h0M101.9 423.4h0M87.4 411.8h0M107.8 454.7h0M93.7 430.5h0M84.1 449.1h0M85.2 466.2h0M91.2 454.5h0M98.9 448.6h0M107.7 451.6h0M82.8 451.1h0M90.5 454.5h0M84.9 440.1h0M108.5 457.3h0M82.7 453.1h0M79.9 423.2h0M80.2 446.1h0M90.5 471.4h0M106.1 453.9h0M105.7 454.9h0M101.0 456.3h0M109.2 453.6h0M107.2 438.8h0M88.5 430.2h0M84.1 461.3h0M107.3 443.4h0M101.4 451.1h0M79.3 452.5h0M98.9 420.1h0M90.0 432.8h0M89.9 420.0h0M88.6 450.0h0M83.5 457.9h0M78.4 471.3h0M87.0 423.5h0M89.2 467.4h0M107.9 426.4h0M82.1 448.5h0M108.2 437.1h0M84.7 470.3h0M89.4 430.2h0M103.8 412.8h0M103.8 430.1h0M91.7 454.6h0M79.8 443.6h0M93.0 430.7h0M89.9 427.1h0M106.8 430.4h0M84.3 390.9h0M89.6 397.6h0M106.1 398.6h0M79.2 399.6h0M91.0 400.6h0M103.5 401.6h0M102.1 478.5h0M79.6 480.0h0M79.4 481.5h0M80.2 483.0h0M106.8 484.5h0M86.3 486.0h0M101.5 487.5h0M106.2 489.0h0M88.8 490.5h0M86.7 492.0h0M108.0 493.5h0M97.4 495.3h0" stroke="#000" stroke-width="1.75" stroke-linecap="round" fill="none"/>
<line x1="32.8" y1="355.6" x2="116.5" y2="355.6" stroke="#666" stroke-width="1.3"/>
<line x1="32.8" y1="355.6" x2="32.8" y2="515.0" stroke="#777" stroke-width="1.4"/>
<line x1="116.5" y1="355.6" x2="116.5" y2="515.0" stroke="#222" stroke-width="1.4"/>
<line x1="32.8" y1="515.0" x2="116.5" y2="515.0" stroke="#222" stroke-width="1.5"/>
<text x="55.8" y="527.7" text-anchor="middle" font-family='"Liberation Sans", sans-serif' font-weight="bold" font-size="10.6" fill="#404040" class="g">BOT</text>
<text x="93.8" y="527.7" text-anchor="middle" font-family='"Liberation Sans", sans-serif' font-weight="bold" font-size="10.6" fill="#404040" class="g">OC</text>
<text x="38.5" y="349.8" font-family='"Liberation Serif", serif' font-weight="bold" font-size="10.7" textLength="74.6" lengthAdjust="spacingAndGlyphs" fill="#000" class="k">Neutrophil ratio</text>
<rect x="138.3" y="356.3" width="81.2" height="159.7" fill="#fff"/>
<line x1="138.3" y1="362.1" x2="219.5" y2="362.1" stroke="#E6E6E6" stroke-width="0.8"/>
<line x1="138.3" y1="408.5" x2="219.5" y2="408.5" stroke="#E6E6E6" stroke-width="0.8"/>
<line x1="138.3" y1="454.8" x2="219.5" y2="454.8" stroke="#E6E6E6" stroke-width="0.8"/>
<line x1="138.3" y1="501.2" x2="219.5" y2="501.2" stroke="#E6E6E6" stroke-width="0.8"/>
<line x1="138.3" y1="385.3" x2="219.5" y2="385.3" stroke="#DCDCDC" stroke-width="1.1"/>
<text x="134.9" y="389.9" text-anchor="end" font-family='"Liberation Sans", sans-serif' font-weight="bold" font-size="10" fill="#404040" class="g">0.6</text>
<line x1="138.3" y1="431.6" x2="219.5" y2="431.6" stroke="#DCDCDC" stroke-width="1.1"/>
<text x="134.9" y="436.2" text-anchor="end" font-family='"Liberation Sans", sans-serif' font-weight="bold" font-size="10" fill="#404040" class="g">0.4</text>
<line x1="138.3" y1="478.0" x2="219.5" y2="478.0" stroke="#DCDCDC" stroke-width="1.1"/>
<text x="134.9" y="482.6" text-anchor="end" font-family='"Liberation Sans", sans-serif' font-weight="bold" font-size="10" fill="#404040" class="g">0.2</text>
<line x1="160.5" y1="356.3" x2="160.5" y2="516.0" stroke="#DCDCDC" stroke-width="1.1"/>
<line x1="197.5" y1="356.3" x2="197.5" y2="516.0" stroke="#DCDCDC" stroke-width="1.1"/>
<line x1="160.5" y1="417.2" x2="160.5" y2="450.0" stroke="#6a6a6a" stroke-width="1.2"/>
<line x1="160.5" y1="476.1" x2="160.5" y2="502.1" stroke="#6a6a6a" stroke-width="1.2"/>
<rect x="146.4" y="450.0" width="28.2" height="26.1" fill="#9A6AB2" stroke="#333" stroke-width="0.9"/>
<line x1="146.4" y1="464.3" x2="174.6" y2="464.3" stroke="#222" stroke-width="1.6"/>
<circle cx="160.5" cy="364" r="1.8" fill="#222"/>
<circle cx="160.5" cy="374.9" r="1.8" fill="#222"/>
<circle cx="160.5" cy="380.2" r="1.8" fill="#222"/>
<circle cx="160.5" cy="393" r="1.8" fill="#222"/>
<circle cx="160.5" cy="403.4" r="1.8" fill="#222"/>
<circle cx="160.5" cy="404.8" r="1.8" fill="#222"/>
<circle cx="160.5" cy="406.3" r="1.8" fill="#222"/>
<line x1="197.5" y1="437.7" x2="197.5" y2="462.6" stroke="#6a6a6a" stroke-width="1.2"/>
<line x1="197.5" y1="480.8" x2="197.5" y2="509" stroke="#6a6a6a" stroke-width="1.2"/>
<rect x="183.4" y="462.6" width="28.2" height="18.2" fill="#F8EC78" stroke="#333" stroke-width="0.9"/>
<line x1="183.4" y1="471.4" x2="211.6" y2="471.4" stroke="#222" stroke-width="1.6"/>
<circle cx="197.5" cy="427.3" r="1.8" fill="#222"/>
<path d="M147.0 502.1h0M155.9 417.2h0M168.4 500.2h0M149.9 455.8h0M172.8 474.1h0M153.5 475.9h0M170.3 477.4h0M149.5 460.0h0M160.6 437.8h0M173.5 467.5h0M151.5 448.1h0M153.1 440.2h0M160.7 469.4h0M154.9 466.7h0M146.1 441.6h0M150.6 485.1h0M150.0 450.4h0M174.0 452.9h0M166.1 461.4h0M172.8 473.7h0M150.2 474.0h0M169.3 472.2h0M148.6 452.4h0M161.5 485.3h0M164.7 480.2h0M156.2 464.2h0M172.1 473.8h0M162.2 448.2h0M163.0 436.7h0M172.4 477.1h0M148.2 476.4h0M175.8 468.6h0M164.5 496.6h0M157.2 458.0h0M169.7 454.2h0M153.2 438.2h0M175.7 458.5h0M162.9 483.7h0M156.2 463.4h0M168.7 471.8h0M158.7 454.7h0M150.5 488.0h0M168.1 476.4h0M146.5 440.2h0M170.4 462.9h0M152.9 473.7h0M164.8 470.8h0M175.5 437.7h0M163.2 451.1h0M165.6 459.0h0M154.7 449.4h0M145.1 481.1h0M146.0 445.8h0M149.6 475.1h0M164.1 478.6h0M158.4 498.2h0M160.9 446.2h0M172.8 471.8h0M149.1 437.5h0M152.0 452.7h0M165.2 445.9h0M145.7 495.5h0M145.1 489.5h0M156.0 471.9h0M148.3 479.8h0M156.1 461.8h0M152.0 459.1h0M163.1 488.6h0M163.3 488.0h0M151.3 498.7h0M164.3 474.3h0M159.7 482.1h0M149.2 496.6h0M174.0 493.1h0M152.6 459.7h0M149.6 489.2h0M148.0 482.0h0M164.8 475.5h0M172.0 474.5h0M169.2 433.6h0M157.5 474.3h0M153.2 463.5h0M145.4 472.4h0M165.0 469.9h0M162.4 433.9h0M155.9 476.4h0M165.0 455.2h0M158.8 477.4h0M174.1 469.6h0M167.7 450.5h0M152.7 470.4h0M173.0 440.2h0M146.4 478.6h0M161.5 464.2h0M157.6 459.7h0M152.4 429.9h0M146.8 471.9h0M169.1 466.2h0M145.4 488.7h0M162.1 475.5h0M174.2 465.5h0M149.4 434.7h0M151.2 451.3h0M163.9 437.6h0M160.7 495.4h0M164.9 479.1h0M170.2 422.0h0M150.4 460.7h0M154.6 450.3h0M154.3 499.9h0M146.5 452.3h0M172.6 494.6h0M169.3 450.0h0M167.2 479.5h0M145.2 465.7h0M171.2 471.3h0M168.1 492.9h0M159.4 481.8h0M168.0 487.0h0M159.0 480.6h0M152.0 461.8h0M148.3 464.3h0M152.2 460.4h0M146.2 474.6h0M155.4 469.8h0M168.2 462.6h0M166.5 469.5h0M171.2 458.7h0M167.1 468.6h0M153.2 469.0h0M162.2 483.3h0M158.5 460.8h0M169.4 466.8h0M161.2 478.6h0M153.2 468.2h0M164.9 484.1h0M174.9 477.5h0M151.7 469.3h0M172.3 495.0h0M145.5 483.3h0M153.1 459.9h0M152.3 479.1h0M168.1 465.9h0M174.3 492.6h0M168.1 449.6h0M155.1 479.6h0M172.3 495.7h0M155.2 447.7h0M152.4 434.8h0M173.1 424.3h0M164.6 364.0h0M166.5 374.9h0M165.6 380.2h0M175.3 393.0h0M159.6 403.4h0M171.0 404.8h0M166.6 406.3h0" stroke="#000" stroke-width="1.75" stroke-linecap="round" fill="none"/>
<path d="M193.2 509.0h0M210.8 437.7h0M208.5 462.7h0M183.8 475.2h0M207.7 466.6h0M210.1 471.1h0M206.3 479.3h0M186.4 484.2h0M207.8 459.3h0M201.6 486.3h0M182.5 461.7h0M182.4 478.1h0M211.5 484.2h0M202.3 467.5h0M189.8 469.2h0M185.1 467.4h0M186.4 466.2h0M189.2 481.4h0M206.1 470.5h0M192.7 477.6h0M186.7 463.8h0M210.0 463.8h0M206.5 440.8h0M187.2 453.0h0M209.6 456.3h0M200.9 485.8h0M206.2 493.3h0M202.7 469.2h0M209.7 463.6h0M206.4 469.3h0M208.0 479.9h0M188.1 498.5h0M203.5 481.2h0M198.5 478.9h0M205.0 475.7h0M195.6 488.8h0M209.4 484.6h0M199.2 477.4h0M190.2 478.9h0M189.3 444.2h0M186.3 473.2h0M197.3 462.9h0M183.8 469.7h0M196.5 491.6h0M186.5 465.2h0M197.2 478.1h0M197.4 467.2h0M198.7 472.1h0M208.7 487.4h0M182.2 444.2h0M208.1 492.6h0M196.5 486.8h0M199.4 443.5h0M202.6 494.5h0M208.1 464.5h0M193.6 481.6h0M195.0 473.4h0M211.8 478.1h0M184.3 463.4h0M201.7 480.8h0M201.7 460.9h0M182.9 467.3h0M200.9 473.3h0M203.2 488.8h0M210.9 469.2h0M192.2 485.1h0M212.4 464.7h0M197.8 469.4h0M197.0 477.8h0M209.8 476.4h0M183.1 476.6h0M204.3 444.8h0M201.4 482.8h0M192.5 482.5h0M208.7 480.7h0M193.4 451.0h0M196.7 462.5h0M198.3 494.9h0M205.9 465.7h0M188.5 465.7h0M195.5 468.9h0M195.1 478.0h0M199.2 478.7h0M207.6 484.3h0M191.1 463.1h0M207.7 468.4h0M194.5 466.1h0M197.6 499.7h0M190.4 470.8h0M197.7 488.4h0M212.2 474.5h0M202.3 462.0h0M206.6 479.5h0M192.3 467.2h0M191.8 463.1h0M191.3 488.5h0M200.2 481.0h0M201.7 472.6h0M206.3 491.3h0M183.2 478.7h0M204.4 499.7h0M209.5 483.8h0M198.9 453.2h0M183.5 455.7h0M191.3 464.5h0M182.2 466.3h0M187.9 475.3h0M210.6 484.4h0M200.9 485.1h0M202.4 476.8h0M206.5 497.7h0M210.2 467.5h0M201.0 473.3h0M201.1 469.3h0M201.4 474.4h0M203.6 493.2h0M200.5 470.1h0M203.1 476.3h0M188.6 466.1h0M202.7 448.6h0M196.2 465.9h0M205.6 475.8h0M185.1 487.4h0M187.6 466.6h0M183.1 459.8h0M206.0 462.8h0M210.3 467.9h0M202.3 469.0h0M193.4 474.7h0M207.5 479.1h0M206.4 469.4h0M199.4 499.0h0M190.0 475.8h0M191.4 464.9h0M195.1 466.9h0M191.9 469.4h0M195.4 492.4h0M201.9 469.6h0M210.9 476.1h0M183.7 468.0h0M199.6 456.6h0M183.2 492.4h0M185.7 476.8h0M207.1 473.6h0M199.8 445.7h0M210.5 487.5h0M195.8 464.9h0M182.4 460.7h0M194.0 472.7h0M200.4 494.0h0M211.1 466.8h0M212.4 472.9h0M196.7 469.1h0M194.8 463.5h0M185.2 472.6h0M202.0 476.1h0M188.6 455.9h0M186.7 485.5h0M182.5 465.5h0M182.1 491.6h0M203.2 460.1h0M185.8 480.4h0M212.0 476.4h0M184.7 484.0h0M209.0 475.8h0M186.0 475.8h0M182.6 467.3h0M204.3 477.9h0M189.5 480.6h0M204.7 482.3h0M187.8 472.4h0M183.6 508.8h0M206.0 464.3h0M204.1 476.7h0M208.5 494.9h0M204.6 464.1h0M184.6 469.2h0M201.5 474.2h0M204.0 471.3h0M196.3 495.7h0M210.9 452.4h0M189.9 463.8h0M211.9 463.9h0M204.2 474.3h0M182.4 479.7h0M182.5 471.8h0M202.2 494.3h0M207.3 463.4h0M184.5 477.8h0M191.6 462.9h0M204.6 480.6h0M187.1 477.2h0M208.7 487.6h0M197.1 484.2h0M183.9 466.7h0M193.4 480.1h0M199.8 485.1h0M195.6 475.5h0M203.0 469.1h0M186.5 468.5h0M206.7 427.3h0" stroke="#000" stroke-width="1.75" stroke-linecap="round" fill="none"/>
<line x1="138.3" y1="356.3" x2="219.5" y2="356.3" stroke="#666" stroke-width="1.3"/>
<line x1="138.3" y1="356.3" x2="138.3" y2="516.0" stroke="#777" stroke-width="1.4"/>
<line x1="219.5" y1="356.3" x2="219.5" y2="516.0" stroke="#222" stroke-width="1.4"/>
<line x1="138.3" y1="516.0" x2="219.5" y2="516.0" stroke="#222" stroke-width="1.5"/>
<text x="160.5" y="527.7" text-anchor="middle" font-family='"Liberation Sans", sans-serif' font-weight="bold" font-size="10.6" fill="#404040" class="g">BOT</text>
<text x="197.5" y="527.7" text-anchor="middle" font-family='"Liberation Sans", sans-serif' font-weight="bold" font-size="10.6" fill="#404040" class="g">OC</text>
<text x="141.0" y="350.4" font-family='"Liberation Serif", serif' font-weight="bold" font-size="10.7" textLength="76.5" lengthAdjust="spacingAndGlyphs" fill="#000" class="k">Thrombocytocrit</text>
<rect x="248.5" y="355.0" width="84.6" height="160.1" fill="#fff"/>
<line x1="248.5" y1="382.8" x2="333.1" y2="382.8" stroke="#E6E6E6" stroke-width="0.8"/>
<line x1="248.5" y1="413.5" x2="333.1" y2="413.5" stroke="#E6E6E6" stroke-width="0.8"/>
<line x1="248.5" y1="444.2" x2="333.1" y2="444.2" stroke="#E6E6E6" stroke-width="0.8"/>
<line x1="248.5" y1="474.8" x2="333.1" y2="474.8" stroke="#E6E6E6" stroke-width="0.8"/>
<line x1="248.5" y1="505.5" x2="333.1" y2="505.5" stroke="#E6E6E6" stroke-width="0.8"/>
<line x1="248.5" y1="367.5" x2="333.1" y2="367.5" stroke="#DCDCDC" stroke-width="1.1"/>
<text x="245.4" y="372.1" text-anchor="end" font-family='"Liberation Sans", sans-serif' font-weight="bold" font-size="10" fill="#404040" class="g">50</text>
<line x1="248.5" y1="398.2" x2="333.1" y2="398.2" stroke="#DCDCDC" stroke-width="1.1"/>
<text x="245.4" y="402.8" text-anchor="end" font-family='"Liberation Sans", sans-serif' font-weight="bold" font-size="10" fill="#404040" class="g">40</text>
<line x1="248.5" y1="428.8" x2="333.1" y2="428.8" stroke="#DCDCDC" stroke-width="1.1"/>
<text x="245.4" y="433.4" text-anchor="end" font-family='"Liberation Sans", sans-serif' font-weight="bold" font-size="10" fill="#404040" class="g">30</text>
<line x1="248.5" y1="459.5" x2="333.1" y2="459.5" stroke="#DCDCDC" stroke-width="1.1"/>
<text x="245.4" y="464.1" text-anchor="end" font-family='"Liberation Sans", sans-serif' font-weight="bold" font-size="10" fill="#404040" class="g">20</text>
<line x1="248.5" y1="490.2" x2="333.1" y2="490.2" stroke="#DCDCDC" stroke-width="1.1"/>
<text x="245.4" y="494.8" text-anchor="end" font-family='"Liberation Sans", sans-serif' font-weight="bold" font-size="10" fill="#404040" class="g">10</text>
<line x1="271.5" y1="355.0" x2="271.5" y2="515.1" stroke="#DCDCDC" stroke-width="1.1"/>
<line x1="309.9" y1="355.0" x2="309.9" y2="515.1" stroke="#DCDCDC" stroke-width="1.1"/>
<line x1="271.5" y1="379.7" x2="271.5" y2="433.5" stroke="#6a6a6a" stroke-width="1.2"/>
<line x1="271.5" y1="472.6" x2="271.5" y2="508" stroke="#6a6a6a" stroke-width="1.2"/>
<rect x="257.2" y="433.5" width="28.6" height="39.1" fill="#9A6AB2" stroke="#333" stroke-width="0.9"/>
<line x1="257.2" y1="448.5" x2="285.8" y2="448.5" stroke="#222" stroke-width="1.6"/>
<circle cx="271.5" cy="362.3" r="1.8" fill="#222"/>
<circle cx="271.5" cy="366.2" r="1.8" fill="#222"/>
<circle cx="271.5" cy="368.6" r="1.8" fill="#222"/>
<circle cx="271.5" cy="371" r="1.8" fill="#222"/>
<circle cx="271.5" cy="373.4" r="1.8" fill="#222"/>
<line x1="309.9" y1="366.4" x2="309.9" y2="409.2" stroke="#6a6a6a" stroke-width="1.2"/>
<line x1="309.9" y1="448.4" x2="309.9" y2="504.5" stroke="#6a6a6a" stroke-width="1.2"/>
<rect x="295.6" y="409.2" width="28.6" height="39.2" fill="#F8EC78" stroke="#333" stroke-width="0.9"/>
<line x1="295.6" y1="428.5" x2="324.2" y2="428.5" stroke="#222" stroke-width="1.6"/>
<path d="M285.5 508.0h0M264.9 379.7h0M265.5 462.6h0M276.1 440.4h0M259.7 441.3h0M274.4 457.4h0M285.6 460.5h0M271.9 396.3h0M264.3 445.1h0M270.5 469.5h0M272.5 488.5h0M260.6 391.4h0M259.8 392.0h0M260.1 467.9h0M265.1 456.4h0M268.6 415.5h0M264.9 478.0h0M263.5 443.9h0M258.7 419.5h0M272.9 421.5h0M282.0 415.3h0M274.9 418.4h0M273.7 445.9h0M276.2 411.9h0M262.2 472.8h0M278.0 481.8h0M270.3 473.4h0M273.0 453.3h0M275.0 481.4h0M270.5 383.3h0M265.6 451.7h0M263.5 443.7h0M262.9 486.6h0M271.9 437.0h0M267.9 462.7h0M274.2 445.2h0M256.4 458.9h0M266.9 448.1h0M282.7 493.4h0M263.4 441.1h0M273.3 412.4h0M271.2 505.6h0M264.8 447.9h0M286.6 492.6h0M265.2 421.0h0M279.9 433.1h0M260.9 490.0h0M258.1 490.1h0M283.0 445.7h0M269.6 423.3h0M257.9 453.5h0M268.0 414.3h0M269.6 443.2h0M278.8 459.4h0M259.4 484.8h0M263.0 429.9h0M285.7 440.7h0M278.9 403.3h0M260.8 454.4h0M266.4 475.7h0M266.9 489.9h0M276.9 463.7h0M275.1 401.5h0M282.3 436.5h0M281.5 440.3h0M272.1 400.6h0M278.9 433.8h0M279.0 421.5h0M279.6 438.5h0M270.7 468.9h0M280.3 443.6h0M278.0 433.6h0M284.4 494.2h0M259.9 477.1h0M283.0 480.5h0M256.1 504.8h0M279.7 498.9h0M274.2 454.5h0M271.4 494.7h0M285.8 385.3h0M273.7 454.1h0M269.0 464.9h0M280.3 421.1h0M283.1 476.4h0M274.8 436.3h0M267.8 445.9h0M270.0 493.6h0M270.2 426.9h0M278.4 488.4h0M265.1 465.4h0M268.1 475.7h0M273.2 387.1h0M267.9 439.0h0M266.0 479.9h0M280.4 490.4h0M282.3 431.8h0M271.5 505.3h0M269.8 480.3h0M261.7 381.9h0M265.4 492.6h0M260.5 474.0h0M273.8 447.5h0M274.0 488.7h0M258.7 482.5h0M284.5 474.0h0M266.0 503.8h0M282.1 485.9h0M282.0 451.7h0M285.7 429.4h0M262.3 393.6h0M269.2 462.3h0M284.2 474.8h0M256.3 454.7h0M257.5 448.2h0M273.5 498.0h0M271.4 391.0h0M284.5 460.9h0M280.0 434.0h0M272.7 475.1h0M286.9 447.3h0M272.0 446.9h0M272.0 481.6h0M277.2 501.2h0M268.1 405.8h0M267.1 437.2h0M274.4 477.9h0M266.9 486.6h0M285.4 503.4h0M277.0 450.1h0M272.3 449.4h0M259.1 470.7h0M267.6 481.6h0M268.4 458.6h0M273.4 473.4h0M273.8 396.0h0M283.3 383.5h0M285.9 391.4h0M271.1 447.6h0M269.6 459.5h0M275.4 423.9h0M286.9 506.7h0M266.6 387.2h0M272.4 421.6h0M281.3 448.1h0M261.3 416.5h0M265.9 433.2h0M286.3 441.1h0M281.6 462.5h0M271.9 447.3h0M259.4 502.9h0M283.7 497.0h0M277.4 441.1h0M281.4 414.3h0M286.7 472.0h0M283.5 438.4h0M269.0 471.3h0M260.8 446.6h0M265.0 399.1h0M271.9 447.9h0M271.7 455.9h0M261.8 362.3h0M261.7 366.2h0M275.5 368.6h0M274.7 371.0h0M266.9 373.4h0" stroke="#000" stroke-width="1.75" stroke-linecap="round" fill="none"/>
<path d="M303.6 504.5h0M300.2 366.4h0M314.2 380.4h0M320.6 418.4h0M323.1 499.4h0M299.6 443.3h0M318.7 414.3h0M320.1 483.8h0M317.4 422.1h0M304.5 416.0h0M300.1 449.3h0M320.0 446.4h0M304.3 417.6h0M305.8 426.2h0M311.5 383.7h0M305.8 499.6h0M320.2 475.5h0M301.8 426.8h0M295.7 389.5h0M312.0 420.1h0M313.9 401.2h0M319.8 405.9h0M316.3 442.1h0M322.5 412.5h0M323.7 439.7h0M309.7 451.0h0M309.9 384.2h0M299.3 422.4h0M303.7 440.1h0M312.4 432.3h0M296.9 437.3h0M315.7 504.5h0M299.5 380.9h0M308.1 447.7h0M324.5 493.8h0M297.2 442.7h0M295.6 390.4h0M308.0 420.9h0M300.3 366.5h0M316.8 428.8h0M294.5 406.8h0M320.5 412.3h0M320.9 502.9h0M318.8 443.1h0M307.6 399.7h0M303.2 448.1h0M314.9 470.6h0M310.4 381.8h0M307.5 444.5h0M304.9 423.9h0M308.0 501.4h0M315.0 435.9h0M320.0 459.8h0M322.4 471.8h0M299.5 448.0h0M303.6 493.8h0M308.1 445.1h0M311.9 466.0h0M305.2 440.6h0M300.5 455.0h0M297.0 446.1h0M304.4 385.9h0M308.7 484.8h0M324.5 381.6h0M322.6 412.0h0M321.2 437.9h0M324.6 374.1h0M324.2 428.1h0M313.6 476.2h0M319.5 413.2h0M296.3 446.8h0M315.4 400.7h0M313.3 422.0h0M303.6 438.6h0M312.1 447.9h0M323.9 420.5h0M309.3 467.9h0M314.5 427.5h0M303.7 425.3h0M305.0 446.1h0M321.8 389.0h0M295.3 437.3h0M300.3 416.8h0M315.4 423.5h0M308.3 443.0h0M297.0 436.9h0M314.9 495.8h0M305.9 442.2h0M312.4 416.4h0M307.3 496.5h0M310.8 428.5h0M311.9 444.0h0M306.7 468.1h0M297.9 442.9h0M300.0 459.7h0M322.0 391.4h0M311.4 379.4h0M297.9 481.0h0M321.1 415.2h0M302.3 416.4h0M297.3 439.9h0M310.9 435.2h0M302.2 416.7h0M309.6 413.7h0M311.6 447.8h0M301.4 397.9h0M312.2 384.5h0M297.9 411.1h0M310.3 412.7h0M312.6 480.0h0M296.9 456.5h0M307.0 443.6h0M296.7 437.6h0M308.0 477.6h0M321.2 486.4h0M311.5 412.4h0M316.6 447.3h0M317.9 433.5h0M298.0 414.8h0M325.1 440.1h0M316.8 496.4h0M297.6 444.9h0M320.1 494.1h0M306.6 449.3h0M299.7 382.6h0M324.2 495.1h0M311.9 467.1h0M318.4 410.1h0M298.6 404.6h0M318.5 385.8h0M296.2 434.3h0M301.7 377.0h0M305.9 367.4h0M294.9 491.8h0M312.8 413.8h0M301.0 434.0h0M303.7 427.6h0M316.3 386.0h0M307.6 404.3h0M321.9 409.2h0M313.7 439.4h0M321.4 435.3h0M311.9 467.6h0M322.8 443.0h0M321.4 470.2h0M299.6 451.8h0M317.5 432.7h0M305.0 381.6h0M318.1 372.0h0M315.5 494.0h0M320.0 390.1h0M298.2 424.9h0M306.0 369.7h0M317.3 421.2h0M323.8 431.5h0M316.8 396.0h0M295.7 444.6h0M313.1 439.2h0M297.5 472.0h0M311.4 455.4h0M319.3 413.5h0M297.9 432.5h0M323.1 484.1h0M315.3 441.9h0M302.3 430.9h0M300.4 439.0h0M308.2 455.7h0M320.4 405.7h0M312.4 409.9h0M297.9 479.9h0M295.0 423.8h0M297.8 452.5h0M319.2 455.2h0M300.1 407.3h0M311.6 417.8h0M303.4 419.0h0M315.7 385.2h0M306.2 447.9h0M298.9 482.6h0M321.5 464.5h0" stroke="#000" stroke-width="1.75" stroke-linecap="round" fill="none"/>
<line x1="248.5" y1="355.0" x2="333.1" y2="355.0" stroke="#666" stroke-width="1.3"/>
<line x1="248.5" y1="355.0" x2="248.5" y2="515.1" stroke="#777" stroke-width="1.4"/>
<line x1="333.1" y1="355.0" x2="333.1" y2="515.1" stroke="#222" stroke-width="1.4"/>
<line x1="248.5" y1="515.1" x2="333.1" y2="515.1" stroke="#222" stroke-width="1.5"/>
<text x="271.5" y="527.7" text-anchor="middle" font-family='"Liberation Sans", sans-serif' font-weight="bold" font-size="10.6" fill="#404040" class="g">BOT</text>
<text x="309.9" y="527.7" text-anchor="middle" font-family='"Liberation Sans", sans-serif' font-weight="bold" font-size="10.6" fill="#404040" class="g">OC</text>
<text x="253.1" y="350.4" font-family='"Liberation Serif", serif' font-weight="bold" font-size="10.7" textLength="80.5" lengthAdjust="spacingAndGlyphs" fill="#000" class="k">Lymphocyte ratio</text>
<rect x="360.7" y="355.9" width="78.6" height="160.4" fill="#fff"/>
<line x1="360.7" y1="361.9" x2="439.3" y2="361.9" stroke="#E6E6E6" stroke-width="0.8"/>
<line x1="360.7" y1="408.1" x2="439.3" y2="408.1" stroke="#E6E6E6" stroke-width="0.8"/>
<line x1="360.7" y1="454.3" x2="439.3" y2="454.3" stroke="#E6E6E6" stroke-width="0.8"/>
<line x1="360.7" y1="500.5" x2="439.3" y2="500.5" stroke="#E6E6E6" stroke-width="0.8"/>
<line x1="360.7" y1="385.0" x2="439.3" y2="385.0" stroke="#DCDCDC" stroke-width="1.1"/>
<text x="357.1" y="389.6" text-anchor="end" font-family='"Liberation Sans", sans-serif' font-weight="bold" font-size="10" fill="#404040" class="g">750</text>
<line x1="360.7" y1="431.2" x2="439.3" y2="431.2" stroke="#DCDCDC" stroke-width="1.1"/>
<text x="357.1" y="435.8" text-anchor="end" font-family='"Liberation Sans", sans-serif' font-weight="bold" font-size="10" fill="#404040" class="g">500</text>
<line x1="360.7" y1="477.4" x2="439.3" y2="477.4" stroke="#DCDCDC" stroke-width="1.1"/>
<text x="357.1" y="482" text-anchor="end" font-family='"Liberation Sans", sans-serif' font-weight="bold" font-size="10" fill="#404040" class="g">250</text>
<line x1="381.5" y1="355.9" x2="381.5" y2="516.3" stroke="#DCDCDC" stroke-width="1.1"/>
<line x1="417.7" y1="355.9" x2="417.7" y2="516.3" stroke="#DCDCDC" stroke-width="1.1"/>
<line x1="381.5" y1="431.7" x2="381.5" y2="463.1" stroke="#6a6a6a" stroke-width="1.2"/>
<line x1="381.5" y1="485.6" x2="381.5" y2="509.2" stroke="#6a6a6a" stroke-width="1.2"/>
<rect x="367.6" y="463.1" width="27.8" height="22.5" fill="#9A6AB2" stroke="#333" stroke-width="0.9"/>
<line x1="367.6" y1="474.9" x2="395.4" y2="474.9" stroke="#222" stroke-width="1.6"/>
<circle cx="381.5" cy="363.5" r="1.8" fill="#222"/>
<circle cx="381.5" cy="376.8" r="1.8" fill="#222"/>
<circle cx="381.5" cy="389.9" r="1.8" fill="#222"/>
<circle cx="381.5" cy="398.3" r="1.8" fill="#222"/>
<circle cx="381.5" cy="402.7" r="1.8" fill="#222"/>
<circle cx="381.5" cy="424" r="1.8" fill="#222"/>
<circle cx="381.5" cy="426" r="1.8" fill="#222"/>
<circle cx="381.5" cy="428" r="1.8" fill="#222"/>
<line x1="417.7" y1="453.6" x2="417.7" y2="473.7" stroke="#6a6a6a" stroke-width="1.2"/>
<line x1="417.7" y1="487.4" x2="417.7" y2="505.6" stroke="#6a6a6a" stroke-width="1.2"/>
<rect x="403.8" y="473.7" width="27.8" height="13.7" fill="#F8EC78" stroke="#333" stroke-width="0.9"/>
<line x1="403.8" y1="480.8" x2="431.6" y2="480.8" stroke="#222" stroke-width="1.6"/>
<circle cx="417.7" cy="449.8" r="1.8" fill="#222"/>
<circle cx="417.7" cy="452.8" r="1.8" fill="#222"/>
<path d="M380.3 509.2h0M376.0 431.7h0M394.0 473.5h0M369.3 468.1h0M388.7 463.9h0M368.0 435.5h0M386.0 490.2h0M378.5 474.8h0M392.8 456.1h0M367.9 464.2h0M383.5 496.7h0M378.7 468.5h0M394.5 478.4h0M395.3 475.7h0M385.4 493.8h0M372.9 451.0h0M373.8 470.9h0M374.1 490.5h0M379.4 454.1h0M373.2 471.7h0M372.3 492.3h0M389.5 475.9h0M385.9 472.1h0M375.3 478.5h0M396.8 479.6h0M372.7 497.7h0M383.7 472.1h0M370.9 480.3h0M392.8 496.4h0M392.9 498.9h0M374.3 482.3h0M389.3 482.2h0M391.5 474.9h0M374.8 482.6h0M376.3 472.4h0M381.1 473.9h0M393.6 445.8h0M371.0 444.8h0M387.2 465.2h0M384.5 459.1h0M380.0 465.1h0M384.0 470.1h0M393.4 470.1h0M372.5 479.3h0M393.4 482.0h0M377.2 464.3h0M390.2 442.6h0M392.8 481.3h0M371.7 465.5h0M392.8 466.3h0M396.8 474.6h0M375.2 470.1h0M366.8 479.7h0M369.5 473.1h0M396.2 477.9h0M366.3 493.9h0M394.3 480.2h0M370.7 480.6h0M388.8 449.2h0M369.0 483.2h0M371.2 483.5h0M387.2 479.8h0M368.8 487.2h0M376.5 496.7h0M394.5 476.7h0M388.2 472.4h0M393.3 481.3h0M396.4 497.2h0M367.0 489.6h0M373.3 466.8h0M390.6 473.1h0M387.4 451.2h0M367.2 480.1h0M381.6 457.9h0M373.2 485.3h0M379.3 472.0h0M369.3 460.1h0M366.6 479.5h0M396.7 465.1h0M375.8 477.2h0M393.2 447.8h0M369.7 456.1h0M381.1 482.2h0M370.2 482.8h0M379.3 491.5h0M371.5 467.6h0M387.2 484.0h0M370.6 478.2h0M388.9 484.6h0M381.5 471.2h0M369.5 453.2h0M377.0 469.6h0M381.4 484.7h0M394.5 466.5h0M376.8 458.3h0M372.7 463.8h0M396.0 459.6h0M393.4 480.1h0M388.7 492.5h0M374.5 446.3h0M371.5 469.9h0M374.2 460.0h0M368.1 466.0h0M367.3 469.6h0M381.8 478.0h0M378.7 468.5h0M383.3 480.2h0M377.2 498.2h0M366.3 477.7h0M387.3 494.9h0M386.2 475.1h0M382.9 471.4h0M383.0 482.8h0M387.4 476.1h0M396.5 495.0h0M393.1 446.1h0M388.3 503.3h0M378.4 480.4h0M375.9 501.0h0M379.0 501.2h0M396.2 505.1h0M378.0 463.7h0M377.9 477.4h0M378.7 473.5h0M370.4 471.7h0M396.9 472.9h0M366.2 469.3h0M384.8 471.3h0M394.7 480.4h0M373.9 466.3h0M384.9 482.8h0M377.7 467.3h0M373.5 465.5h0M372.2 465.0h0M369.6 481.1h0M392.1 465.2h0M390.3 451.8h0M394.2 474.1h0M367.5 459.7h0M387.5 502.2h0M376.1 469.3h0M386.0 465.1h0M383.0 479.4h0M375.8 462.2h0M396.1 483.7h0M366.0 465.7h0M389.1 493.3h0M392.5 487.0h0M381.8 474.8h0M384.4 472.9h0M396.8 485.2h0M373.3 457.6h0M385.5 485.4h0M389.0 466.4h0M377.7 456.9h0M388.1 490.2h0M378.2 483.2h0M382.3 442.3h0M385.0 480.0h0M387.0 464.2h0M376.0 363.5h0M385.5 376.8h0M382.8 389.9h0M372.9 398.3h0M385.0 402.7h0M374.2 424.0h0M394.2 426.0h0M380.7 428.0h0" stroke="#000" stroke-width="1.75" stroke-linecap="round" fill="none"/>
<path d="M405.7 505.6h0M427.9 453.6h0M406.0 475.6h0M430.8 480.5h0M433.1 481.6h0M431.3 487.4h0M418.5 487.5h0M411.2 463.0h0M413.0 480.4h0M425.5 471.8h0M417.6 487.0h0M431.0 491.7h0M405.1 477.6h0M417.2 464.8h0M429.0 471.9h0M420.7 483.7h0M419.0 471.7h0M404.9 470.0h0M406.5 486.7h0M410.6 491.0h0M429.9 484.3h0M428.4 464.0h0M409.2 488.7h0M430.9 483.4h0M403.2 470.4h0M420.8 481.5h0M432.2 473.7h0M412.9 474.7h0M431.5 496.6h0M422.6 476.6h0M403.8 484.1h0M412.5 480.5h0M416.1 487.0h0M409.9 484.0h0M425.2 484.7h0M407.7 483.7h0M426.6 490.9h0M411.4 498.4h0M404.4 488.8h0M419.5 485.0h0M405.2 486.9h0M419.3 466.7h0M426.6 499.0h0M420.7 500.7h0M416.5 482.8h0M403.2 473.9h0M418.1 478.2h0M405.2 483.9h0M422.3 495.4h0M406.3 475.8h0M420.1 485.7h0M413.1 483.1h0M413.8 477.4h0M422.8 470.7h0M407.3 484.4h0M407.5 483.6h0M431.4 479.1h0M412.5 465.2h0M428.3 475.9h0M429.3 483.9h0M417.1 477.0h0M406.8 484.9h0M405.1 487.7h0M429.5 480.4h0M405.8 481.1h0M417.6 465.0h0M418.8 474.8h0M405.8 495.7h0M416.7 481.9h0M407.3 468.2h0M418.8 483.0h0M417.9 481.6h0M413.6 464.1h0M408.3 480.8h0M414.7 469.9h0M408.5 476.9h0M406.1 475.2h0M409.6 483.3h0M429.2 492.2h0M417.8 474.5h0M429.8 474.4h0M402.7 497.6h0M431.4 487.4h0M417.3 489.1h0M426.7 491.2h0M419.9 474.8h0M423.6 479.5h0M409.3 493.3h0M425.5 481.4h0M407.0 500.1h0M410.4 476.4h0M403.2 482.9h0M414.4 479.0h0M418.3 466.3h0M411.3 503.9h0M429.8 484.8h0M404.8 480.6h0M420.1 494.5h0M409.5 486.4h0M420.7 485.3h0M426.5 486.6h0M424.2 473.2h0M404.1 479.7h0M409.8 480.8h0M420.8 482.8h0M432.7 493.4h0M403.5 456.9h0M421.4 473.4h0M423.6 493.4h0M427.5 480.1h0M412.8 483.9h0M427.3 481.8h0M416.5 481.3h0M430.7 479.0h0M402.5 484.1h0M431.3 467.6h0M415.0 479.7h0M414.8 491.7h0M404.9 483.1h0M409.8 479.5h0M424.9 485.0h0M423.2 486.2h0M406.9 473.8h0M412.9 485.8h0M406.6 475.9h0M408.3 463.6h0M409.0 478.8h0M412.5 482.1h0M432.5 456.5h0M433.1 493.6h0M426.7 482.5h0M417.1 477.6h0M417.6 489.6h0M426.4 478.7h0M430.4 490.0h0M425.5 458.9h0M421.9 481.1h0M408.4 476.8h0M421.6 476.8h0M428.4 485.7h0M426.6 493.4h0M405.1 461.6h0M424.4 503.2h0M413.0 500.3h0M407.2 464.9h0M432.1 483.0h0M423.1 477.2h0M425.3 486.5h0M406.4 471.7h0M427.9 492.2h0M431.3 476.3h0M430.2 491.2h0M425.3 487.1h0M428.0 479.0h0M427.1 485.2h0M420.5 479.6h0M415.7 493.8h0M427.8 466.0h0M426.5 502.7h0M429.2 473.7h0M411.5 471.9h0M432.0 483.8h0M418.7 477.6h0M431.5 487.3h0M405.8 479.9h0M432.2 488.9h0M426.6 481.8h0M410.0 475.5h0M428.2 482.6h0M409.4 476.7h0M408.3 449.8h0M416.4 452.8h0" stroke="#000" stroke-width="1.75" stroke-linecap="round" fill="none"/>
<line x1="360.7" y1="355.9" x2="439.3" y2="355.9" stroke="#666" stroke-width="1.3"/>
<line x1="360.7" y1="355.9" x2="360.7" y2="516.3" stroke="#777" stroke-width="1.4"/>
<line x1="439.3" y1="355.9" x2="439.3" y2="516.3" stroke="#222" stroke-width="1.4"/>
<line x1="360.7" y1="516.3" x2="439.3" y2="516.3" stroke="#222" stroke-width="1.5"/>
<text x="381.5" y="527.7" text-anchor="middle" font-family='"Liberation Sans", sans-serif' font-weight="bold" font-size="10.6" fill="#404040" class="g">BOT</text>
<text x="417.7" y="527.7" text-anchor="middle" font-family='"Liberation Sans", sans-serif' font-weight="bold" font-size="10.6" fill="#404040" class="g">OC</text>
<text x="365.8" y="350.4" font-family='"Liberation Serif", serif' font-weight="bold" font-size="10.7" textLength="62.8" lengthAdjust="spacingAndGlyphs" fill="#000" class="k">Platelet count</text>
<rect x="458.2" y="356.3" width="81.3" height="158.8" fill="#fff"/>
<line x1="458.2" y1="371.4" x2="539.5" y2="371.4" stroke="#E6E6E6" stroke-width="0.8"/>
<line x1="458.2" y1="413.2" x2="539.5" y2="413.2" stroke="#E6E6E6" stroke-width="0.8"/>
<line x1="458.2" y1="455.0" x2="539.5" y2="455.0" stroke="#E6E6E6" stroke-width="0.8"/>
<line x1="458.2" y1="496.8" x2="539.5" y2="496.8" stroke="#E6E6E6" stroke-width="0.8"/>
<line x1="458.2" y1="392.3" x2="539.5" y2="392.3" stroke="#DCDCDC" stroke-width="1.1"/>
<text x="455.5" y="396.9" text-anchor="end" font-family='"Liberation Sans", sans-serif' font-weight="bold" font-size="10" fill="#404040" class="g">0.5</text>
<line x1="458.2" y1="434.1" x2="539.5" y2="434.1" stroke="#DCDCDC" stroke-width="1.1"/>
<text x="455.5" y="438.7" text-anchor="end" font-family='"Liberation Sans", sans-serif' font-weight="bold" font-size="10" fill="#404040" class="g">0.4</text>
<line x1="458.2" y1="475.9" x2="539.5" y2="475.9" stroke="#DCDCDC" stroke-width="1.1"/>
<text x="455.5" y="480.5" text-anchor="end" font-family='"Liberation Sans", sans-serif' font-weight="bold" font-size="10" fill="#404040" class="g">0.3</text>
<line x1="480.4" y1="356.3" x2="480.4" y2="515.1" stroke="#DCDCDC" stroke-width="1.1"/>
<line x1="517.4" y1="356.3" x2="517.4" y2="515.1" stroke="#DCDCDC" stroke-width="1.1"/>
<line x1="480.4" y1="407.5" x2="480.4" y2="432.4" stroke="#6a6a6a" stroke-width="1.2"/>
<line x1="480.4" y1="453.6" x2="480.4" y2="483.2" stroke="#6a6a6a" stroke-width="1.2"/>
<rect x="466.1" y="432.4" width="28.6" height="21.2" fill="#9A6AB2" stroke="#333" stroke-width="0.9"/>
<line x1="466.1" y1="440.6" x2="494.7" y2="440.6" stroke="#222" stroke-width="1.6"/>
<circle cx="480.4" cy="363.5" r="1.8" fill="#222"/>
<circle cx="480.4" cy="400.7" r="1.8" fill="#222"/>
<circle cx="480.4" cy="486.7" r="1.8" fill="#222"/>
<circle cx="480.4" cy="491.9" r="1.8" fill="#222"/>
<circle cx="480.4" cy="496.9" r="1.8" fill="#222"/>
<circle cx="480.4" cy="505.6" r="1.8" fill="#222"/>
<circle cx="480.4" cy="508.0" r="1.8" fill="#222"/>
<line x1="517.4" y1="409.4" x2="517.4" y2="428.0" stroke="#6a6a6a" stroke-width="1.2"/>
<line x1="517.4" y1="447.7" x2="517.4" y2="476.1" stroke="#6a6a6a" stroke-width="1.2"/>
<rect x="503.1" y="428.0" width="28.6" height="19.7" fill="#F8EC78" stroke="#333" stroke-width="0.9"/>
<line x1="503.1" y1="437.8" x2="531.7" y2="437.8" stroke="#222" stroke-width="1.6"/>
<circle cx="517.4" cy="478.5" r="1.8" fill="#222"/>
<circle cx="517.4" cy="483.2" r="1.8" fill="#222"/>
<path d="M471.5 483.2h0M471.8 407.5h0M467.8 450.4h0M485.9 440.9h0M495.1 423.8h0M489.8 444.6h0M476.1 433.9h0M486.6 433.7h0M467.1 436.3h0M490.9 412.5h0M475.0 433.0h0M465.0 444.1h0M484.4 468.7h0M469.2 446.6h0M473.4 438.4h0M466.7 432.7h0M478.7 433.7h0M482.1 475.0h0M489.9 441.0h0M466.1 473.0h0M490.5 443.6h0M468.3 438.1h0M471.9 442.2h0M484.4 446.7h0M475.4 451.2h0M475.2 446.0h0M482.5 432.5h0M471.7 437.8h0M489.5 448.3h0M471.4 469.7h0M490.9 449.1h0M490.0 435.9h0M481.5 442.8h0M465.8 436.8h0M489.0 433.4h0M465.8 455.2h0M480.5 433.0h0M478.0 452.3h0M466.9 449.1h0M484.4 428.7h0M487.4 445.7h0M483.0 450.8h0M477.3 409.9h0M480.8 444.5h0M483.2 440.6h0M471.9 413.8h0M491.8 440.4h0M495.8 422.8h0M489.8 453.1h0M494.7 440.0h0M475.1 477.7h0M495.5 452.7h0M467.1 408.3h0M479.7 449.9h0M469.0 446.1h0M479.0 460.7h0M486.1 439.4h0M486.9 419.1h0M479.0 431.2h0M475.5 429.7h0M470.8 437.7h0M477.4 442.7h0M473.7 427.7h0M470.9 445.7h0M487.7 436.8h0M480.9 437.5h0M478.5 445.2h0M471.0 440.1h0M486.7 436.5h0M471.0 419.3h0M473.1 432.2h0M482.3 464.2h0M486.6 439.3h0M495.1 442.5h0M488.1 434.7h0M494.3 414.4h0M493.4 435.2h0M487.3 434.7h0M487.2 457.0h0M466.8 425.7h0M471.3 421.1h0M465.3 438.8h0M491.7 468.1h0M487.3 444.6h0M484.4 434.8h0M473.1 437.3h0M475.9 448.7h0M470.0 434.5h0M484.5 448.4h0M495.6 439.6h0M474.4 443.5h0M466.3 417.6h0M470.3 436.5h0M475.9 445.0h0M492.8 412.4h0M489.8 435.7h0M479.0 436.1h0M468.1 448.9h0M468.2 453.2h0M469.7 438.8h0M489.0 433.0h0M479.5 433.7h0M495.6 446.3h0M493.2 481.7h0M489.5 453.1h0M479.7 435.0h0M490.4 452.8h0M468.9 447.6h0M468.3 456.4h0M482.4 448.1h0M480.6 444.9h0M471.4 423.8h0M472.7 447.7h0M465.6 430.3h0M493.1 451.8h0M486.9 447.3h0M494.2 442.9h0M495.3 454.5h0M478.4 444.9h0M487.6 418.6h0M476.8 449.3h0M490.1 451.6h0M491.0 424.3h0M469.0 437.4h0M465.3 434.1h0M471.5 447.5h0M483.0 453.5h0M476.6 434.6h0M465.2 441.7h0M490.6 439.2h0M489.3 436.6h0M479.3 434.7h0M466.2 448.9h0M492.5 445.7h0M481.5 421.2h0M467.1 437.5h0M474.9 449.5h0M484.3 434.2h0M492.3 455.7h0M479.9 432.9h0M484.7 439.0h0M471.3 446.0h0M472.4 431.4h0M493.0 463.8h0M476.8 439.5h0M468.1 434.7h0M483.2 436.4h0M468.8 443.8h0M471.1 433.4h0M479.0 460.5h0M483.1 413.8h0M484.6 437.5h0M486.8 436.1h0M478.5 434.2h0M467.0 444.5h0M487.4 431.8h0M466.6 444.6h0M479.5 433.4h0M477.3 446.2h0M485.8 452.3h0M487.0 419.8h0M472.3 439.9h0M485.0 440.1h0M486.4 436.6h0M479.5 424.0h0M469.3 462.9h0M493.1 443.8h0M483.5 440.5h0M466.8 423.5h0M472.3 444.2h0M495.5 438.9h0M472.0 449.0h0M477.1 432.5h0M489.3 433.8h0M490.4 432.7h0M484.6 453.6h0M487.9 436.6h0M466.1 434.6h0M467.8 440.6h0M495.2 416.7h0M489.8 431.3h0M466.1 437.1h0M466.4 417.8h0M472.4 435.8h0M493.8 438.0h0M471.7 449.0h0M485.7 469.4h0M493.7 438.2h0M484.7 433.0h0M493.4 449.0h0M473.1 363.5h0M469.7 400.7h0M465.5 486.7h0M488.4 491.9h0M468.1 496.9h0M495.1 505.6h0M486.9 508.0h0" stroke="#000" stroke-width="1.75" stroke-linecap="round" fill="none"/>
<path d="M529.8 476.1h0M504.4 409.4h0M508.6 446.4h0M503.0 429.4h0M515.5 447.1h0M506.3 437.5h0M507.8 453.9h0M525.1 427.6h0M520.0 436.3h0M531.0 429.1h0M514.4 437.7h0M523.0 434.5h0M502.3 435.2h0M531.3 429.6h0M509.1 462.9h0M516.7 443.5h0M517.8 440.6h0M531.3 453.1h0M517.2 431.1h0M532.6 458.9h0M521.2 439.0h0M508.6 468.2h0M527.8 433.7h0M508.2 445.9h0M532.9 439.8h0M516.1 463.6h0M508.9 441.9h0M531.7 450.1h0M511.9 431.5h0M514.5 428.3h0M512.5 428.3h0M522.6 455.0h0M502.6 430.7h0M513.5 447.5h0M506.9 434.9h0M527.6 420.0h0M501.9 430.5h0M520.7 453.3h0M509.9 432.6h0M516.0 435.1h0M519.3 437.3h0M524.0 439.0h0M506.2 440.3h0M509.4 434.8h0M505.6 433.8h0M531.7 425.1h0M506.5 431.5h0M506.1 429.7h0M518.1 417.4h0M519.9 465.1h0M529.4 432.9h0M503.7 428.3h0M509.2 439.7h0M507.1 414.9h0M520.1 439.4h0M515.9 432.2h0M514.6 444.6h0M529.4 443.3h0M522.4 442.0h0M528.6 442.6h0M531.6 475.4h0M510.2 439.4h0M531.1 411.2h0M514.5 430.7h0M503.5 428.6h0M530.3 427.8h0M505.1 444.7h0M502.4 440.2h0M510.9 458.0h0M510.9 445.2h0M531.9 418.0h0M528.9 430.4h0M514.9 430.3h0M518.3 422.5h0M528.2 429.8h0M526.9 436.9h0M522.2 452.8h0M517.8 434.3h0M505.5 441.5h0M509.5 436.8h0M522.3 418.1h0M520.1 447.1h0M526.7 437.0h0M529.8 433.7h0M531.7 436.8h0M507.9 412.4h0M504.3 432.6h0M529.7 420.5h0M519.6 443.6h0M507.5 423.3h0M523.4 449.0h0M509.8 421.9h0M509.2 432.7h0M513.3 432.6h0M518.1 431.1h0M522.9 430.9h0M504.2 444.7h0M524.9 444.5h0M521.3 460.0h0M516.5 432.6h0M522.7 445.8h0M526.7 444.4h0M502.2 417.4h0M516.6 433.6h0M522.9 435.1h0M523.9 432.5h0M522.0 443.2h0M507.5 461.1h0M531.6 459.8h0M526.3 447.6h0M509.1 448.8h0M515.2 438.0h0M531.6 424.1h0M508.3 430.5h0M514.6 446.7h0M531.7 457.2h0M529.8 443.2h0M509.1 440.3h0M524.7 432.6h0M513.1 439.3h0M522.5 431.6h0M525.7 458.4h0M505.9 428.8h0M508.8 452.5h0M508.6 428.9h0M510.1 445.3h0M503.0 428.1h0M506.1 429.6h0M514.5 433.2h0M514.9 443.9h0M504.3 457.9h0M520.0 447.2h0M531.1 433.5h0M519.8 435.4h0M512.9 433.4h0M523.7 446.6h0M515.5 447.6h0M507.3 473.5h0M516.8 414.2h0M502.4 435.9h0M522.9 445.4h0M506.9 460.2h0M513.4 451.8h0M531.7 422.6h0M525.7 441.6h0M527.8 431.7h0M521.8 450.0h0M521.6 441.5h0M523.8 437.2h0M531.9 457.2h0M508.0 444.7h0M525.7 429.7h0M511.2 443.7h0M509.8 441.1h0M527.4 430.6h0M520.5 445.4h0M528.2 446.2h0M529.0 445.5h0M520.2 441.0h0M508.0 441.5h0M502.4 434.0h0M518.5 438.6h0M524.4 410.0h0M510.3 428.6h0M504.1 445.1h0M502.0 453.6h0M507.3 439.5h0M523.5 467.3h0M502.0 452.7h0M509.0 455.5h0M510.1 445.2h0M523.9 439.4h0M532.5 448.7h0M502.5 457.0h0M505.4 417.0h0M530.9 436.3h0M532.0 451.3h0M506.5 436.1h0M512.3 422.1h0M518.1 462.4h0M511.8 445.0h0M514.8 446.9h0M516.7 422.6h0M509.9 445.7h0M503.6 450.5h0M504.5 438.9h0M506.9 431.5h0M504.7 458.4h0M521.2 445.9h0M523.5 433.4h0M510.1 441.6h0M526.4 451.0h0M524.5 420.0h0M512.5 448.6h0M517.1 433.6h0M507.7 437.4h0M530.7 468.4h0M519.3 436.8h0M503.5 445.1h0M506.7 437.8h0M523.4 434.9h0M513.8 433.7h0M524.1 447.6h0M509.0 429.5h0M526.6 424.1h0M526.8 431.3h0M504.8 428.1h0M520.1 441.4h0M507.8 424.2h0M523.8 435.1h0M526.8 478.5h0M526.4 483.2h0" stroke="#000" stroke-width="1.75" stroke-linecap="round" fill="none"/>
<line x1="458.2" y1="356.3" x2="539.5" y2="356.3" stroke="#666" stroke-width="1.3"/>
<line x1="458.2" y1="356.3" x2="458.2" y2="515.1" stroke="#777" stroke-width="1.4"/>
<line x1="539.5" y1="356.3" x2="539.5" y2="515.1" stroke="#222" stroke-width="1.4"/>
<line x1="458.2" y1="515.1" x2="539.5" y2="515.1" stroke="#222" stroke-width="1.5"/>
<text x="480.4" y="527.7" text-anchor="middle" font-family='"Liberation Sans", sans-serif' font-weight="bold" font-size="10.6" fill="#404040" class="g">BOT</text>
<text x="517.4" y="527.7" text-anchor="middle" font-family='"Liberation Sans", sans-serif' font-weight="bold" font-size="10.6" fill="#404040" class="g">OC</text>
<text x="466.6" y="350.4" font-family='"Liberation Serif", serif' font-weight="bold" font-size="10.7" textLength="52.0" lengthAdjust="spacingAndGlyphs" fill="#000" class="k">Hematocrit</text>
</g>
</svg></body></html>
